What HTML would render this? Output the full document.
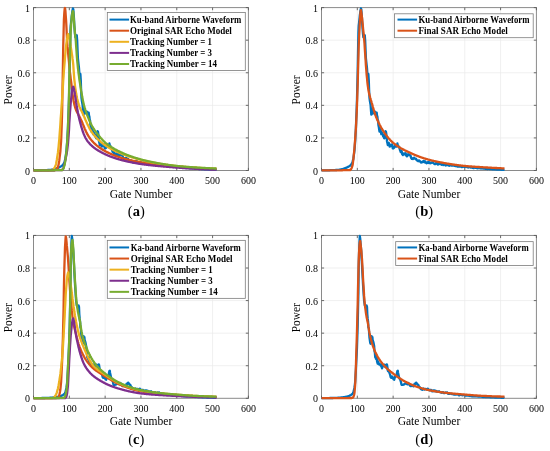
<!DOCTYPE html>
<html><head><meta charset="utf-8"><title>Figure</title>
<style>
html,body{margin:0;padding:0;background:#fff;}
svg{display:block;}
text{font-family:"Liberation Serif","Times New Roman",serif;fill:#000;}
.tk{font-size:10.8px;}
.al{font-size:12.2px;}
.lg{font-size:10.3px;font-weight:bold;}
.cap{font-size:14.5px;fill:#000;}
</style></head><body>
<svg width="550" height="451" viewBox="0 0 550 451">
<rect width="550" height="451" fill="#fff"/>
<g>
<line x1="69.32" y1="7.60" x2="69.32" y2="170.50" stroke="#e9e9e9" stroke-width="0.7"/>
<line x1="105.13" y1="7.60" x2="105.13" y2="170.50" stroke="#e9e9e9" stroke-width="0.7"/>
<line x1="140.95" y1="7.60" x2="140.95" y2="170.50" stroke="#e9e9e9" stroke-width="0.7"/>
<line x1="176.77" y1="7.60" x2="176.77" y2="170.50" stroke="#e9e9e9" stroke-width="0.7"/>
<line x1="212.58" y1="7.60" x2="212.58" y2="170.50" stroke="#e9e9e9" stroke-width="0.7"/>
<line x1="33.50" y1="137.92" x2="248.40" y2="137.92" stroke="#e9e9e9" stroke-width="0.7"/>
<line x1="33.50" y1="105.34" x2="248.40" y2="105.34" stroke="#e9e9e9" stroke-width="0.7"/>
<line x1="33.50" y1="72.76" x2="248.40" y2="72.76" stroke="#e9e9e9" stroke-width="0.7"/>
<line x1="33.50" y1="40.18" x2="248.40" y2="40.18" stroke="#e9e9e9" stroke-width="0.7"/>
<rect x="33.50" y="7.60" width="214.90" height="162.90" fill="none" stroke="#8a8a8a" stroke-width="1"/>
<line x1="33.50" y1="170.50" x2="33.50" y2="167.90" stroke="#5a5a5a" stroke-width="0.9"/>
<line x1="33.50" y1="7.60" x2="33.50" y2="10.20" stroke="#5a5a5a" stroke-width="0.9"/>
<text x="33.50" y="183.80" text-anchor="middle" class="tk" textLength="5.0" lengthAdjust="spacingAndGlyphs">0</text>
<line x1="69.32" y1="170.50" x2="69.32" y2="167.90" stroke="#5a5a5a" stroke-width="0.9"/>
<line x1="69.32" y1="7.60" x2="69.32" y2="10.20" stroke="#5a5a5a" stroke-width="0.9"/>
<text x="69.32" y="183.80" text-anchor="middle" class="tk" textLength="15.0" lengthAdjust="spacingAndGlyphs">100</text>
<line x1="105.13" y1="170.50" x2="105.13" y2="167.90" stroke="#5a5a5a" stroke-width="0.9"/>
<line x1="105.13" y1="7.60" x2="105.13" y2="10.20" stroke="#5a5a5a" stroke-width="0.9"/>
<text x="105.13" y="183.80" text-anchor="middle" class="tk" textLength="15.0" lengthAdjust="spacingAndGlyphs">200</text>
<line x1="140.95" y1="170.50" x2="140.95" y2="167.90" stroke="#5a5a5a" stroke-width="0.9"/>
<line x1="140.95" y1="7.60" x2="140.95" y2="10.20" stroke="#5a5a5a" stroke-width="0.9"/>
<text x="140.95" y="183.80" text-anchor="middle" class="tk" textLength="15.0" lengthAdjust="spacingAndGlyphs">300</text>
<line x1="176.77" y1="170.50" x2="176.77" y2="167.90" stroke="#5a5a5a" stroke-width="0.9"/>
<line x1="176.77" y1="7.60" x2="176.77" y2="10.20" stroke="#5a5a5a" stroke-width="0.9"/>
<text x="176.77" y="183.80" text-anchor="middle" class="tk" textLength="15.0" lengthAdjust="spacingAndGlyphs">400</text>
<line x1="212.58" y1="170.50" x2="212.58" y2="167.90" stroke="#5a5a5a" stroke-width="0.9"/>
<line x1="212.58" y1="7.60" x2="212.58" y2="10.20" stroke="#5a5a5a" stroke-width="0.9"/>
<text x="212.58" y="183.80" text-anchor="middle" class="tk" textLength="15.0" lengthAdjust="spacingAndGlyphs">500</text>
<line x1="248.40" y1="170.50" x2="248.40" y2="167.90" stroke="#5a5a5a" stroke-width="0.9"/>
<line x1="248.40" y1="7.60" x2="248.40" y2="10.20" stroke="#5a5a5a" stroke-width="0.9"/>
<text x="248.40" y="183.80" text-anchor="middle" class="tk" textLength="15.0" lengthAdjust="spacingAndGlyphs">600</text>
<line x1="33.50" y1="170.50" x2="36.10" y2="170.50" stroke="#5a5a5a" stroke-width="0.9"/>
<line x1="248.40" y1="170.50" x2="245.80" y2="170.50" stroke="#5a5a5a" stroke-width="0.9"/>
<text x="29.90" y="174.50" text-anchor="end" class="tk" textLength="5.0" lengthAdjust="spacingAndGlyphs">0</text>
<line x1="33.50" y1="137.92" x2="36.10" y2="137.92" stroke="#5a5a5a" stroke-width="0.9"/>
<line x1="248.40" y1="137.92" x2="245.80" y2="137.92" stroke="#5a5a5a" stroke-width="0.9"/>
<text x="29.90" y="141.92" text-anchor="end" class="tk" textLength="12.5" lengthAdjust="spacingAndGlyphs">0.2</text>
<line x1="33.50" y1="105.34" x2="36.10" y2="105.34" stroke="#5a5a5a" stroke-width="0.9"/>
<line x1="248.40" y1="105.34" x2="245.80" y2="105.34" stroke="#5a5a5a" stroke-width="0.9"/>
<text x="29.90" y="109.34" text-anchor="end" class="tk" textLength="12.5" lengthAdjust="spacingAndGlyphs">0.4</text>
<line x1="33.50" y1="72.76" x2="36.10" y2="72.76" stroke="#5a5a5a" stroke-width="0.9"/>
<line x1="248.40" y1="72.76" x2="245.80" y2="72.76" stroke="#5a5a5a" stroke-width="0.9"/>
<text x="29.90" y="76.76" text-anchor="end" class="tk" textLength="12.5" lengthAdjust="spacingAndGlyphs">0.6</text>
<line x1="33.50" y1="40.18" x2="36.10" y2="40.18" stroke="#5a5a5a" stroke-width="0.9"/>
<line x1="248.40" y1="40.18" x2="245.80" y2="40.18" stroke="#5a5a5a" stroke-width="0.9"/>
<text x="29.90" y="44.18" text-anchor="end" class="tk" textLength="12.5" lengthAdjust="spacingAndGlyphs">0.8</text>
<line x1="33.50" y1="7.60" x2="36.10" y2="7.60" stroke="#5a5a5a" stroke-width="0.9"/>
<line x1="248.40" y1="7.60" x2="245.80" y2="7.60" stroke="#5a5a5a" stroke-width="0.9"/>
<text x="29.90" y="11.60" text-anchor="end" class="tk" textLength="5.0" lengthAdjust="spacingAndGlyphs">1</text>
<text x="140.95" y="197.50" text-anchor="middle" class="al" textLength="62.6" lengthAdjust="spacingAndGlyphs">Gate Number</text>
<text transform="translate(12.10 89.95) rotate(-90)" text-anchor="middle" class="al" style="font-size:11.5px" textLength="28.9" lengthAdjust="spacingAndGlyphs">Power</text>
<text x="136.25" y="215.70" text-anchor="middle" class="cap">(<tspan font-weight="bold">a</tspan>)</text>
<path d="M33.5 170.4 L33.9 170.4 L34.2 170.4 L34.6 170.4 L34.9 170.4 L35.3 170.4 L35.6 170.4 L36.0 170.4 L36.4 170.4 L36.7 170.4 L37.1 170.4 L37.4 170.4 L37.8 170.4 L38.2 170.4 L38.5 170.3 L38.9 170.3 L39.2 170.3 L39.6 170.3 L39.9 170.3 L40.3 170.3 L40.7 170.3 L41.0 170.3 L41.4 170.3 L41.7 170.3 L42.1 170.2 L42.5 170.2 L42.8 170.2 L43.2 170.2 L43.5 170.2 L43.9 170.2 L44.2 170.2 L44.6 170.2 L45.0 170.1 L45.3 170.1 L45.7 170.1 L46.0 170.1 L46.4 170.1 L46.8 170.1 L47.1 170.1 L47.5 170.0 L47.8 170.0 L48.2 170.0 L48.5 170.0 L48.9 170.0 L49.3 169.9 L49.6 169.9 L50.0 169.9 L50.3 169.8 L50.7 169.8 L51.1 169.8 L51.4 169.7 L51.8 169.7 L52.1 169.6 L52.5 169.5 L52.8 169.4 L53.2 169.3 L53.6 169.3 L53.9 169.2 L54.3 169.1 L54.6 169.0 L55.0 168.9 L55.3 168.8 L55.7 168.7 L56.1 168.6 L56.4 168.4 L56.8 168.3 L57.1 168.2 L57.5 168.1 L57.9 167.9 L58.2 167.8 L58.6 167.6 L58.9 167.4 L59.3 167.3 L59.6 167.1 L60.0 166.9 L60.4 166.7 L60.7 166.5 L61.1 166.3 L61.4 166.1 L61.8 165.8 L62.2 165.6 L62.5 165.2 L62.9 164.9 L63.2 164.5 L63.6 163.9 L63.9 163.2 L64.3 162.4 L64.7 161.3 L65.0 160.1 L65.4 158.4 L65.7 156.1 L66.1 153.3 L66.5 150.1 L66.8 146.1 L67.2 141.2 L67.5 135.3 L67.9 128.2 L68.2 120.0 L68.6 110.5 L69.0 99.2 L69.3 86.3 L69.7 70.7 L70.0 53.2 L70.4 32.7 L70.7 25.9 L71.1 22.3 L71.5 18.6 L71.8 15.5 L72.2 12.8 L72.5 10.5 L72.9 8.4 L73.3 9.3 L73.6 13.4 L74.0 18.5 L74.3 25.0 L74.7 30.4 L75.0 34.4 L75.4 37.3 L75.8 37.5 L76.1 36.5 L76.5 35.8 L76.8 35.3 L77.2 41.0 L77.6 51.0 L77.9 58.1 L78.3 61.9 L78.6 64.6 L79.0 68.2 L79.3 72.5 L79.7 77.3 L80.1 73.7 L80.4 74.2 L80.8 80.5 L81.1 90.0 L81.5 98.1 L81.9 101.1 L82.2 102.9 L82.6 105.1 L82.9 109.5 L83.3 114.6 L83.6 114.5 L84.0 112.0 L84.4 108.9 L84.7 111.5 L85.1 111.2 L85.4 113.3 L85.8 112.4 L86.2 112.1 L86.5 111.7 L86.9 112.6 L87.2 111.8 L87.6 114.7 L87.9 112.8 L88.3 115.2 L88.7 112.7 L89.0 115.3 L89.4 116.5 L89.7 119.9 L90.1 120.5 L90.4 125.1 L90.8 126.9 L91.2 129.8 L91.5 131.5 L91.9 128.8 L92.2 129.4 L92.6 130.3 L93.0 132.5 L93.3 134.2 L93.7 132.3 L94.0 133.4 L94.4 133.1 L94.7 134.3 L95.1 136.2 L95.5 135.7 L95.8 137.3 L96.2 138.2 L96.5 138.3 L96.9 135.2 L97.3 133.2 L97.6 131.2 L98.0 131.9 L98.3 133.9 L98.7 137.1 L99.0 141.4 L99.4 143.1 L99.8 145.0 L100.1 143.6 L100.5 142.7 L100.8 142.9 L101.2 144.1 L101.6 146.5 L101.9 146.5 L102.3 146.2 L102.6 144.9 L103.0 145.8 L103.3 144.7 L103.7 144.5 L104.1 144.4 L104.4 146.8 L104.8 148.4 L105.1 148.5 L105.5 148.4 L105.8 148.0 L106.2 147.6 L106.6 146.4 L106.9 145.6 L107.3 145.7 L107.6 145.9 L108.0 146.7 L108.4 146.7 L108.7 145.3 L109.1 145.4 L109.4 143.5 L109.8 145.7 L110.1 145.5 L110.5 146.5 L110.9 146.7 L111.2 147.1 L111.6 148.7 L111.9 149.8 L112.3 150.9 L112.7 152.0 L113.0 151.4 L113.4 152.0 L113.7 151.2 L114.1 154.0 L114.4 154.2 L114.8 155.1 L115.2 153.9 L115.5 153.5 L115.9 153.7 L116.2 153.8 L116.6 154.3 L117.0 153.3 L117.3 153.2 L117.7 153.4 L118.0 155.2 L118.4 155.4 L118.7 156.3 L119.1 156.3 L119.5 155.4 L119.8 154.4 L120.2 154.2 L120.5 155.0 L120.9 154.8 L121.3 155.0 L121.6 154.8 L122.0 155.3 L122.3 155.7 L122.7 156.0 L123.0 157.7 L123.4 158.2 L123.8 158.9 L124.1 158.5 L124.5 158.5 L124.8 159.0 L125.2 159.0 L125.5 158.1 L125.9 157.7 L126.3 157.7 L126.6 158.4 L127.0 158.9 L127.3 158.7 L127.7 159.2 L128.1 158.8 L128.4 159.8 L128.8 159.8 L129.1 160.6 L129.5 160.6 L129.8 160.7 L130.2 161.2 L130.6 160.5 L130.9 160.9 L131.3 160.5 L131.6 161.1 L132.0 161.2 L132.4 162.0 L132.7 162.1 L133.1 162.6 L133.4 162.1 L133.8 162.1 L134.1 161.8 L134.5 162.2 L134.9 161.7 L135.2 161.2 L135.6 161.0 L135.9 161.6 L136.3 162.2 L136.7 161.8 L137.0 161.2 L137.4 161.7 L137.7 162.2 L138.1 163.0 L138.4 163.0 L138.8 163.3 L139.2 162.9 L139.5 162.9 L139.9 162.1 L140.2 162.0 L140.6 162.0 L140.9 162.7 L141.3 163.1 L141.7 162.5 L142.0 162.5 L142.4 162.7 L142.7 163.2 L143.1 162.9 L143.5 162.7 L143.8 162.3 L144.2 162.4 L144.5 162.2 L144.9 162.9 L145.2 163.0 L145.6 163.2 L146.0 163.6 L146.3 163.6 L146.7 164.1 L147.0 163.6 L147.4 164.1 L147.8 163.2 L148.1 163.2 L148.5 162.7 L148.8 163.0 L149.2 163.5 L149.5 164.3 L149.9 164.6 L150.3 164.2 L150.6 163.7 L151.0 163.5 L151.3 163.5 L151.7 163.9 L152.1 164.1 L152.4 163.9 L152.8 163.8 L153.1 164.3 L153.5 164.8 L153.8 164.8 L154.2 164.4 L154.6 164.5 L154.9 164.5 L155.3 165.1 L155.6 164.7 L156.0 164.5 L156.4 163.8 L156.7 164.3 L157.1 164.6 L157.4 165.5 L157.8 165.2 L158.1 165.3 L158.5 165.0 L158.9 165.0 L159.2 165.0 L159.6 164.7 L159.9 164.8 L160.3 164.8 L160.6 165.4 L161.0 165.6 L161.4 165.8 L161.7 165.4 L162.1 165.3 L162.4 165.0 L162.8 165.2 L163.2 165.3 L163.5 165.6 L163.9 165.5 L164.2 165.4 L164.6 165.6 L164.9 165.4 L165.3 165.5 L165.7 165.3 L166.0 165.6 L166.4 165.3 L166.7 165.8 L167.1 165.7 L167.5 166.1 L167.8 165.9 L168.2 165.8 L168.5 166.0 L168.9 166.2 L169.2 166.6 L169.6 166.4 L170.0 166.5 L170.3 166.4 L170.7 166.7 L171.0 166.6 L171.4 166.7 L171.8 166.5 L172.1 166.5 L172.5 166.6 L172.8 166.6 L173.2 166.6 L173.5 167.0 L173.9 167.0 L174.3 167.0 L174.6 166.6 L175.0 166.3 L175.3 166.3 L175.7 166.5 L176.1 166.9 L176.4 167.0 L176.8 166.9 L177.1 166.7 L177.5 166.9 L177.8 167.0 L178.2 167.0 L178.6 166.8 L178.9 166.8 L179.3 167.0 L179.6 167.3 L180.0 167.4 L180.3 167.5 L180.7 167.3 L181.1 167.2 L181.4 167.1 L181.8 167.1 L182.1 167.3 L182.5 167.4 L182.9 167.6 L183.2 167.6 L183.6 167.5 L183.9 167.5 L184.3 167.7 L184.6 167.9 L185.0 168.0 L185.4 168.0 L185.7 168.1 L186.1 167.9 L186.4 167.7 L186.8 167.7 L187.2 167.7 L187.5 167.8 L187.9 167.9 L188.2 168.0 L188.6 168.1 L188.9 168.1 L189.3 168.2 L189.7 168.3 L190.0 168.2 L190.4 168.0 L190.7 167.9 L191.1 168.0 L191.5 168.0 L191.8 168.2 L192.2 168.3 L192.5 168.4 L192.9 168.5 L193.2 168.4 L193.6 168.5 L194.0 168.4 L194.3 168.4 L194.7 168.5 L195.0 168.5 L195.4 168.5 L195.7 168.6 L196.1 168.6 L196.5 168.7 L196.8 168.7 L197.2 168.8 L197.5 168.9 L197.9 168.9 L198.3 168.8 L198.6 168.8 L199.0 168.8 L199.3 169.0 L199.7 169.0 L200.0 169.0 L200.4 168.9 L200.8 168.9 L201.1 169.0 L201.5 169.1 L201.8 169.2 L202.2 169.2 L202.6 169.2 L202.9 169.2 L203.3 169.2 L203.6 169.1 L204.0 169.2 L204.3 169.3 L204.7 169.3 L205.1 169.4 L205.4 169.3 L205.8 169.3 L206.1 169.3 L206.5 169.3 L206.9 169.4 L207.2 169.5 L207.6 169.4 L207.9 169.4 L208.3 169.5 L208.6 169.5 L209.0 169.5 L209.4 169.5 L209.7 169.5 L210.1 169.6 L210.4 169.6 L210.8 169.6 L211.2 169.6 L211.5 169.6 L211.9 169.7 L212.2 169.7 L212.6 169.7 L212.9 169.7 L213.3 169.8 L213.7 169.7 L214.0 169.7 L214.4 169.8 L214.7 169.8 L215.1 169.8 L215.4 169.8 L215.8 169.9 L216.2 169.9 L216.5 169.9" fill="none" stroke="#0072BD" stroke-width="2.30" stroke-linejoin="round" stroke-linecap="butt"/>
<path d="M33.5 170.4 L33.9 170.4 L34.2 170.4 L34.6 170.4 L34.9 170.4 L35.3 170.4 L35.6 170.4 L36.0 170.4 L36.4 170.4 L36.7 170.4 L37.1 170.4 L37.4 170.4 L37.8 170.4 L38.2 170.4 L38.5 170.4 L38.9 170.4 L39.2 170.4 L39.6 170.4 L39.9 170.4 L40.3 170.4 L40.7 170.4 L41.0 170.4 L41.4 170.4 L41.7 170.4 L42.1 170.4 L42.5 170.4 L42.8 170.4 L43.2 170.4 L43.5 170.4 L43.9 170.4 L44.2 170.4 L44.6 170.4 L45.0 170.4 L45.3 170.4 L45.7 170.4 L46.0 170.4 L46.4 170.4 L46.8 170.4 L47.1 170.4 L47.5 170.4 L47.8 170.4 L48.2 170.4 L48.5 170.4 L48.9 170.4 L49.3 170.4 L49.6 170.4 L50.0 170.4 L50.3 170.4 L50.7 170.4 L51.1 170.4 L51.4 170.4 L51.8 170.4 L52.1 170.3 L52.5 170.3 L52.8 170.3 L53.2 170.3 L53.6 170.3 L53.9 170.3 L54.3 170.3 L54.6 170.2 L55.0 170.2 L55.3 170.1 L55.7 170.0 L56.1 169.8 L56.4 169.6 L56.8 169.4 L57.1 168.9 L57.5 168.1 L57.9 167.2 L58.2 166.0 L58.6 164.6 L58.9 162.7 L59.3 160.4 L59.6 157.7 L60.0 154.6 L60.4 151.0 L60.7 146.5 L61.1 141.1 L61.4 134.0 L61.8 123.3 L62.2 108.7 L62.5 89.0 L62.9 67.5 L63.2 47.8 L63.6 32.0 L63.9 19.8 L64.3 13.0 L64.7 8.7 L65.0 8.0 L65.4 10.7 L65.7 15.0 L66.1 20.4 L66.5 28.0 L66.8 35.4 L67.2 41.8 L67.5 46.4 L67.9 50.1 L68.2 54.0 L68.6 58.1 L69.0 62.2 L69.3 66.1 L69.7 69.6 L70.0 72.7 L70.4 75.7 L70.7 78.6 L71.1 81.5 L71.5 84.6 L71.8 87.9 L72.2 91.2 L72.5 94.1 L72.9 96.5 L73.3 98.8 L73.6 100.9 L74.0 102.8 L74.3 104.4 L74.7 105.8 L75.0 107.0 L75.4 108.2 L75.8 109.2 L76.1 110.2 L76.5 111.0 L76.8 111.8 L77.2 112.5 L77.6 113.2 L77.9 113.8 L78.3 114.5 L78.6 115.1 L79.0 115.8 L79.3 116.4 L79.7 117.1 L80.1 117.8 L80.4 118.5 L80.8 119.2 L81.1 120.0 L81.5 120.8 L81.9 121.6 L82.2 122.5 L82.6 123.4 L82.9 124.2 L83.3 125.1 L83.6 126.0 L84.0 126.9 L84.4 127.8 L84.7 128.6 L85.1 129.5 L85.4 130.3 L85.8 131.1 L86.2 131.9 L86.5 132.6 L86.9 133.3 L87.2 134.0 L87.6 134.6 L87.9 135.2 L88.3 135.8 L88.7 136.4 L89.0 136.9 L89.4 137.5 L89.7 138.0 L90.1 138.5 L90.4 139.0 L90.8 139.4 L91.2 139.9 L91.5 140.3 L91.9 140.7 L92.2 141.1 L92.6 141.5 L93.0 141.9 L93.3 142.3 L93.7 142.6 L94.0 143.0 L94.4 143.3 L94.7 143.7 L95.1 144.0 L95.5 144.3 L95.8 144.7 L96.2 145.0 L96.5 145.3 L96.9 145.6 L97.3 145.9 L97.6 146.2 L98.0 146.4 L98.3 146.7 L98.7 147.0 L99.0 147.3 L99.4 147.5 L99.8 147.8 L100.1 148.0 L100.5 148.3 L100.8 148.5 L101.2 148.7 L101.6 149.0 L101.9 149.2 L102.3 149.4 L102.6 149.7 L103.0 149.9 L103.3 150.1 L103.7 150.3 L104.1 150.5 L104.4 150.7 L104.8 150.9 L105.1 151.1 L105.5 151.3 L105.8 151.5 L106.2 151.7 L106.6 151.9 L106.9 152.1 L107.3 152.3 L107.6 152.4 L108.0 152.6 L108.4 152.8 L108.7 153.0 L109.1 153.1 L109.4 153.3 L109.8 153.5 L110.1 153.6 L110.5 153.8 L110.9 153.9 L111.2 154.1 L111.6 154.3 L111.9 154.4 L112.3 154.6 L112.7 154.7 L113.0 154.9 L113.4 155.0 L113.7 155.2 L114.1 155.3 L114.4 155.4 L114.8 155.6 L115.2 155.7 L115.5 155.8 L115.9 156.0 L116.2 156.1 L116.6 156.2 L117.0 156.4 L117.3 156.5 L117.7 156.6 L118.0 156.7 L118.4 156.9 L118.7 157.0 L119.1 157.1 L119.5 157.2 L119.8 157.3 L120.2 157.4 L120.5 157.6 L120.9 157.7 L121.3 157.8 L121.6 157.9 L122.0 158.0 L122.3 158.1 L122.7 158.2 L123.0 158.3 L123.4 158.4 L123.8 158.5 L124.1 158.6 L124.5 158.7 L124.8 158.8 L125.2 158.9 L125.5 159.0 L125.9 159.1 L126.3 159.2 L126.6 159.3 L127.0 159.4 L127.3 159.5 L127.7 159.6 L128.1 159.7 L128.4 159.8 L128.8 159.8 L129.1 159.9 L129.5 160.0 L129.8 160.1 L130.2 160.2 L130.6 160.3 L130.9 160.3 L131.3 160.4 L131.6 160.5 L132.0 160.6 L132.4 160.7 L132.7 160.7 L133.1 160.8 L133.4 160.9 L133.8 161.0 L134.1 161.1 L134.5 161.1 L134.9 161.2 L135.2 161.3 L135.6 161.3 L135.9 161.4 L136.3 161.5 L136.7 161.6 L137.0 161.6 L137.4 161.7 L137.7 161.8 L138.1 161.8 L138.4 161.9 L138.8 162.0 L139.2 162.0 L139.5 162.1 L139.9 162.2 L140.2 162.2 L140.6 162.3 L140.9 162.4 L141.3 162.4 L141.7 162.5 L142.0 162.5 L142.4 162.6 L142.7 162.7 L143.1 162.7 L143.5 162.8 L143.8 162.8 L144.2 162.9 L144.5 162.9 L144.9 163.0 L145.2 163.0 L145.6 163.1 L146.0 163.2 L146.3 163.2 L146.7 163.3 L147.0 163.3 L147.4 163.4 L147.8 163.4 L148.1 163.4 L148.5 163.5 L148.8 163.5 L149.2 163.6 L149.5 163.6 L149.9 163.7 L150.3 163.7 L150.6 163.8 L151.0 163.8 L151.3 163.9 L151.7 163.9 L152.1 163.9 L152.4 164.0 L152.8 164.0 L153.1 164.1 L153.5 164.1 L153.8 164.2 L154.2 164.2 L154.6 164.2 L154.9 164.3 L155.3 164.3 L155.6 164.4 L156.0 164.4 L156.4 164.4 L156.7 164.5 L157.1 164.5 L157.4 164.5 L157.8 164.6 L158.1 164.6 L158.5 164.7 L158.9 164.7 L159.2 164.7 L159.6 164.8 L159.9 164.8 L160.3 164.8 L160.6 164.9 L161.0 164.9 L161.4 165.0 L161.7 165.0 L162.1 165.0 L162.4 165.1 L162.8 165.1 L163.2 165.1 L163.5 165.2 L163.9 165.2 L164.2 165.2 L164.6 165.3 L164.9 165.3 L165.3 165.3 L165.7 165.4 L166.0 165.4 L166.4 165.4 L166.7 165.5 L167.1 165.5 L167.5 165.5 L167.8 165.6 L168.2 165.6 L168.5 165.7 L168.9 165.7 L169.2 165.7 L169.6 165.8 L170.0 165.8 L170.3 165.8 L170.7 165.9 L171.0 165.9 L171.4 165.9 L171.8 166.0 L172.1 166.0 L172.5 166.0 L172.8 166.1 L173.2 166.1 L173.5 166.1 L173.9 166.2 L174.3 166.2 L174.6 166.2 L175.0 166.3 L175.3 166.3 L175.7 166.3 L176.1 166.4 L176.4 166.4 L176.8 166.4 L177.1 166.5 L177.5 166.5 L177.8 166.5 L178.2 166.6 L178.6 166.6 L178.9 166.6 L179.3 166.7 L179.6 166.7 L180.0 166.7 L180.3 166.8 L180.7 166.8 L181.1 166.8 L181.4 166.9 L181.8 166.9 L182.1 166.9 L182.5 167.0 L182.9 167.0 L183.2 167.0 L183.6 167.0 L183.9 167.1 L184.3 167.1 L184.6 167.1 L185.0 167.2 L185.4 167.2 L185.7 167.2 L186.1 167.3 L186.4 167.3 L186.8 167.3 L187.2 167.4 L187.5 167.4 L187.9 167.4 L188.2 167.4 L188.6 167.5 L188.9 167.5 L189.3 167.5 L189.7 167.6 L190.0 167.6 L190.4 167.6 L190.7 167.6 L191.1 167.7 L191.5 167.7 L191.8 167.7 L192.2 167.8 L192.5 167.8 L192.9 167.8 L193.2 167.8 L193.6 167.9 L194.0 167.9 L194.3 167.9 L194.7 167.9 L195.0 168.0 L195.4 168.0 L195.7 168.0 L196.1 168.0 L196.5 168.1 L196.8 168.1 L197.2 168.1 L197.5 168.1 L197.9 168.2 L198.3 168.2 L198.6 168.2 L199.0 168.2 L199.3 168.3 L199.7 168.3 L200.0 168.3 L200.4 168.3 L200.8 168.4 L201.1 168.4 L201.5 168.4 L201.8 168.4 L202.2 168.5 L202.6 168.5 L202.9 168.5 L203.3 168.5 L203.6 168.5 L204.0 168.6 L204.3 168.6 L204.7 168.6 L205.1 168.6 L205.4 168.6 L205.8 168.7 L206.1 168.7 L206.5 168.7 L206.9 168.7 L207.2 168.7 L207.6 168.8 L207.9 168.8 L208.3 168.8 L208.6 168.8 L209.0 168.8 L209.4 168.9 L209.7 168.9 L210.1 168.9 L210.4 168.9 L210.8 168.9 L211.2 169.0 L211.5 169.0 L211.9 169.0 L212.2 169.0 L212.6 169.0 L212.9 169.0 L213.3 169.1 L213.7 169.1 L214.0 169.1 L214.4 169.1 L214.7 169.1 L215.1 169.1 L215.4 169.2 L215.8 169.2 L216.2 169.2 L216.5 169.2" fill="none" stroke="#D95319" stroke-width="2.30" stroke-linejoin="round" stroke-linecap="butt"/>
<path d="M33.5 170.4 L33.9 170.4 L34.2 170.4 L34.6 170.4 L34.9 170.4 L35.3 170.4 L35.6 170.4 L36.0 170.4 L36.4 170.4 L36.7 170.4 L37.1 170.4 L37.4 170.4 L37.8 170.4 L38.2 170.4 L38.5 170.4 L38.9 170.4 L39.2 170.4 L39.6 170.4 L39.9 170.4 L40.3 170.4 L40.7 170.4 L41.0 170.4 L41.4 170.4 L41.7 170.4 L42.1 170.4 L42.5 170.4 L42.8 170.4 L43.2 170.4 L43.5 170.4 L43.9 170.4 L44.2 170.4 L44.6 170.4 L45.0 170.4 L45.3 170.4 L45.7 170.4 L46.0 170.4 L46.4 170.4 L46.8 170.4 L47.1 170.4 L47.5 170.4 L47.8 170.4 L48.2 170.4 L48.5 170.3 L48.9 170.3 L49.3 170.3 L49.6 170.3 L50.0 170.3 L50.3 170.3 L50.7 170.3 L51.1 170.2 L51.4 170.2 L51.8 170.1 L52.1 170.0 L52.5 169.8 L52.8 169.7 L53.2 169.5 L53.6 169.1 L53.9 168.7 L54.3 168.2 L54.6 167.6 L55.0 167.0 L55.3 166.1 L55.7 165.1 L56.1 163.7 L56.4 162.0 L56.8 160.0 L57.1 157.8 L57.5 155.5 L57.9 152.9 L58.2 149.9 L58.6 146.6 L58.9 143.0 L59.3 139.1 L59.6 134.7 L60.0 129.4 L60.4 123.8 L60.7 118.4 L61.1 113.3 L61.4 108.3 L61.8 103.1 L62.2 97.7 L62.5 92.0 L62.9 86.3 L63.2 80.9 L63.6 75.8 L63.9 70.9 L64.3 66.2 L64.7 61.7 L65.0 57.3 L65.4 53.2 L65.7 49.3 L66.1 45.6 L66.5 42.6 L66.8 40.2 L67.2 38.0 L67.5 36.1 L67.9 34.6 L68.2 34.1 L68.6 35.3 L69.0 36.8 L69.3 38.4 L69.7 40.2 L70.0 42.1 L70.4 44.2 L70.7 46.5 L71.1 48.9 L71.5 51.3 L71.8 53.6 L72.2 55.9 L72.5 58.5 L72.9 61.4 L73.3 65.0 L73.6 69.9 L74.0 75.3 L74.3 79.3 L74.7 82.7 L75.0 85.8 L75.4 88.6 L75.8 91.1 L76.1 93.3 L76.5 95.3 L76.8 97.1 L77.2 98.8 L77.6 100.3 L77.9 101.7 L78.3 103.0 L78.6 104.2 L79.0 105.3 L79.3 106.4 L79.7 107.3 L80.1 108.1 L80.4 108.9 L80.8 109.6 L81.1 110.3 L81.5 111.0 L81.9 111.7 L82.2 112.4 L82.6 113.2 L82.9 114.0 L83.3 114.8 L83.6 115.6 L84.0 116.4 L84.4 117.2 L84.7 118.1 L85.1 118.9 L85.4 119.7 L85.8 120.6 L86.2 121.4 L86.5 122.2 L86.9 123.0 L87.2 123.7 L87.6 124.5 L87.9 125.3 L88.3 126.0 L88.7 126.7 L89.0 127.4 L89.4 128.1 L89.7 128.8 L90.1 129.4 L90.4 130.0 L90.8 130.6 L91.2 131.2 L91.5 131.7 L91.9 132.2 L92.2 132.7 L92.6 133.2 L93.0 133.7 L93.3 134.1 L93.7 134.6 L94.0 135.0 L94.4 135.5 L94.7 135.9 L95.1 136.3 L95.5 136.7 L95.8 137.1 L96.2 137.5 L96.5 137.9 L96.9 138.3 L97.3 138.6 L97.6 139.0 L98.0 139.4 L98.3 139.7 L98.7 140.0 L99.0 140.4 L99.4 140.7 L99.8 141.0 L100.1 141.3 L100.5 141.7 L100.8 142.0 L101.2 142.3 L101.6 142.6 L101.9 142.8 L102.3 143.1 L102.6 143.4 L103.0 143.7 L103.3 144.0 L103.7 144.2 L104.1 144.5 L104.4 144.7 L104.8 145.0 L105.1 145.3 L105.5 145.5 L105.8 145.7 L106.2 146.0 L106.6 146.2 L106.9 146.4 L107.3 146.7 L107.6 146.9 L108.0 147.1 L108.4 147.3 L108.7 147.5 L109.1 147.8 L109.4 148.0 L109.8 148.2 L110.1 148.4 L110.5 148.6 L110.9 148.7 L111.2 148.9 L111.6 149.1 L111.9 149.3 L112.3 149.5 L112.7 149.7 L113.0 149.9 L113.4 150.0 L113.7 150.2 L114.1 150.4 L114.4 150.5 L114.8 150.7 L115.2 150.9 L115.5 151.0 L115.9 151.2 L116.2 151.4 L116.6 151.5 L117.0 151.7 L117.3 151.8 L117.7 152.0 L118.0 152.2 L118.4 152.3 L118.7 152.5 L119.1 152.6 L119.5 152.8 L119.8 152.9 L120.2 153.1 L120.5 153.2 L120.9 153.3 L121.3 153.5 L121.6 153.6 L122.0 153.8 L122.3 153.9 L122.7 154.1 L123.0 154.2 L123.4 154.4 L123.8 154.5 L124.1 154.6 L124.5 154.8 L124.8 154.9 L125.2 155.0 L125.5 155.2 L125.9 155.3 L126.3 155.4 L126.6 155.6 L127.0 155.7 L127.3 155.8 L127.7 155.9 L128.1 156.1 L128.4 156.2 L128.8 156.3 L129.1 156.4 L129.5 156.6 L129.8 156.7 L130.2 156.8 L130.6 156.9 L130.9 157.0 L131.3 157.1 L131.6 157.3 L132.0 157.4 L132.4 157.5 L132.7 157.6 L133.1 157.7 L133.4 157.8 L133.8 157.9 L134.1 158.0 L134.5 158.1 L134.9 158.2 L135.2 158.3 L135.6 158.4 L135.9 158.6 L136.3 158.7 L136.7 158.8 L137.0 158.9 L137.4 159.0 L137.7 159.1 L138.1 159.2 L138.4 159.3 L138.8 159.3 L139.2 159.4 L139.5 159.5 L139.9 159.6 L140.2 159.7 L140.6 159.8 L140.9 159.9 L141.3 160.0 L141.7 160.1 L142.0 160.2 L142.4 160.3 L142.7 160.4 L143.1 160.4 L143.5 160.5 L143.8 160.6 L144.2 160.7 L144.5 160.8 L144.9 160.9 L145.2 161.0 L145.6 161.0 L146.0 161.1 L146.3 161.2 L146.7 161.3 L147.0 161.4 L147.4 161.4 L147.8 161.5 L148.1 161.6 L148.5 161.7 L148.8 161.8 L149.2 161.8 L149.5 161.9 L149.9 162.0 L150.3 162.1 L150.6 162.1 L151.0 162.2 L151.3 162.3 L151.7 162.3 L152.1 162.4 L152.4 162.5 L152.8 162.6 L153.1 162.6 L153.5 162.7 L153.8 162.8 L154.2 162.8 L154.6 162.9 L154.9 163.0 L155.3 163.0 L155.6 163.1 L156.0 163.2 L156.4 163.2 L156.7 163.3 L157.1 163.4 L157.4 163.4 L157.8 163.5 L158.1 163.5 L158.5 163.6 L158.9 163.7 L159.2 163.7 L159.6 163.8 L159.9 163.8 L160.3 163.9 L160.6 164.0 L161.0 164.0 L161.4 164.1 L161.7 164.1 L162.1 164.2 L162.4 164.2 L162.8 164.3 L163.2 164.3 L163.5 164.4 L163.9 164.5 L164.2 164.5 L164.6 164.6 L164.9 164.6 L165.3 164.7 L165.7 164.7 L166.0 164.8 L166.4 164.8 L166.7 164.9 L167.1 164.9 L167.5 165.0 L167.8 165.0 L168.2 165.1 L168.5 165.1 L168.9 165.2 L169.2 165.2 L169.6 165.3 L170.0 165.3 L170.3 165.4 L170.7 165.4 L171.0 165.4 L171.4 165.5 L171.8 165.5 L172.1 165.6 L172.5 165.6 L172.8 165.7 L173.2 165.7 L173.5 165.7 L173.9 165.8 L174.3 165.8 L174.6 165.9 L175.0 165.9 L175.3 165.9 L175.7 166.0 L176.1 166.0 L176.4 166.1 L176.8 166.1 L177.1 166.1 L177.5 166.2 L177.8 166.2 L178.2 166.2 L178.6 166.3 L178.9 166.3 L179.3 166.4 L179.6 166.4 L180.0 166.4 L180.3 166.5 L180.7 166.5 L181.1 166.5 L181.4 166.6 L181.8 166.6 L182.1 166.6 L182.5 166.6 L182.9 166.7 L183.2 166.7 L183.6 166.7 L183.9 166.8 L184.3 166.8 L184.6 166.8 L185.0 166.9 L185.4 166.9 L185.7 166.9 L186.1 166.9 L186.4 167.0 L186.8 167.0 L187.2 167.0 L187.5 167.1 L187.9 167.1 L188.2 167.1 L188.6 167.1 L188.9 167.2 L189.3 167.2 L189.7 167.2 L190.0 167.2 L190.4 167.3 L190.7 167.3 L191.1 167.3 L191.5 167.3 L191.8 167.4 L192.2 167.4 L192.5 167.4 L192.9 167.4 L193.2 167.5 L193.6 167.5 L194.0 167.5 L194.3 167.5 L194.7 167.6 L195.0 167.6 L195.4 167.6 L195.7 167.6 L196.1 167.7 L196.5 167.7 L196.8 167.7 L197.2 167.7 L197.5 167.8 L197.9 167.8 L198.3 167.8 L198.6 167.8 L199.0 167.8 L199.3 167.9 L199.7 167.9 L200.0 167.9 L200.4 167.9 L200.8 167.9 L201.1 168.0 L201.5 168.0 L201.8 168.0 L202.2 168.0 L202.6 168.1 L202.9 168.1 L203.3 168.1 L203.6 168.1 L204.0 168.1 L204.3 168.1 L204.7 168.2 L205.1 168.2 L205.4 168.2 L205.8 168.2 L206.1 168.2 L206.5 168.3 L206.9 168.3 L207.2 168.3 L207.6 168.3 L207.9 168.3 L208.3 168.4 L208.6 168.4 L209.0 168.4 L209.4 168.4 L209.7 168.4 L210.1 168.4 L210.4 168.5 L210.8 168.5 L211.2 168.5 L211.5 168.5 L211.9 168.5 L212.2 168.5 L212.6 168.6 L212.9 168.6 L213.3 168.6 L213.7 168.6 L214.0 168.6 L214.4 168.6 L214.7 168.6 L215.1 168.7 L215.4 168.7 L215.8 168.7 L216.2 168.7 L216.5 168.7" fill="none" stroke="#EDB120" stroke-width="2.30" stroke-linejoin="round" stroke-linecap="butt"/>
<path d="M33.5 170.4 L33.9 170.4 L34.2 170.4 L34.6 170.4 L34.9 170.4 L35.3 170.4 L35.6 170.4 L36.0 170.4 L36.4 170.4 L36.7 170.4 L37.1 170.4 L37.4 170.4 L37.8 170.4 L38.2 170.4 L38.5 170.4 L38.9 170.4 L39.2 170.4 L39.6 170.4 L39.9 170.4 L40.3 170.4 L40.7 170.4 L41.0 170.4 L41.4 170.4 L41.7 170.4 L42.1 170.4 L42.5 170.4 L42.8 170.4 L43.2 170.4 L43.5 170.4 L43.9 170.4 L44.2 170.4 L44.6 170.4 L45.0 170.4 L45.3 170.4 L45.7 170.4 L46.0 170.4 L46.4 170.4 L46.8 170.4 L47.1 170.4 L47.5 170.4 L47.8 170.4 L48.2 170.4 L48.5 170.4 L48.9 170.3 L49.3 170.3 L49.6 170.3 L50.0 170.3 L50.3 170.3 L50.7 170.3 L51.1 170.3 L51.4 170.3 L51.8 170.3 L52.1 170.3 L52.5 170.3 L52.8 170.3 L53.2 170.3 L53.6 170.3 L53.9 170.3 L54.3 170.3 L54.6 170.2 L55.0 170.2 L55.3 170.2 L55.7 170.2 L56.1 170.2 L56.4 170.2 L56.8 170.2 L57.1 170.2 L57.5 170.2 L57.9 170.2 L58.2 170.2 L58.6 170.1 L58.9 170.1 L59.3 170.1 L59.6 170.1 L60.0 170.1 L60.4 170.1 L60.7 170.1 L61.1 170.1 L61.4 170.0 L61.8 170.0 L62.2 170.0 L62.5 169.8 L62.9 169.2 L63.2 168.5 L63.6 167.6 L63.9 166.2 L64.3 164.8 L64.7 163.3 L65.0 161.7 L65.4 160.0 L65.7 158.2 L66.1 156.5 L66.5 154.7 L66.8 152.6 L67.2 150.2 L67.5 147.6 L67.9 144.4 L68.2 140.5 L68.6 135.7 L69.0 130.0 L69.3 123.1 L69.7 117.3 L70.0 112.2 L70.4 107.5 L70.7 103.2 L71.1 99.1 L71.5 95.6 L71.8 92.6 L72.2 90.0 L72.5 88.2 L72.9 87.2 L73.3 86.6 L73.6 87.6 L74.0 89.0 L74.3 90.7 L74.7 92.7 L75.0 95.0 L75.4 97.5 L75.8 100.0 L76.1 102.4 L76.5 104.7 L76.8 106.8 L77.2 108.8 L77.6 110.7 L77.9 112.5 L78.3 114.3 L78.6 116.0 L79.0 117.6 L79.3 119.1 L79.7 120.6 L80.1 122.1 L80.4 123.4 L80.8 124.8 L81.1 126.1 L81.5 127.3 L81.9 128.5 L82.2 129.7 L82.6 130.8 L82.9 131.8 L83.3 132.8 L83.6 133.7 L84.0 134.6 L84.4 135.4 L84.7 136.2 L85.1 137.0 L85.4 137.7 L85.8 138.4 L86.2 139.0 L86.5 139.6 L86.9 140.2 L87.2 140.7 L87.6 141.2 L87.9 141.6 L88.3 142.1 L88.7 142.5 L89.0 142.9 L89.4 143.3 L89.7 143.7 L90.1 144.1 L90.4 144.5 L90.8 144.8 L91.2 145.2 L91.5 145.5 L91.9 145.9 L92.2 146.2 L92.6 146.5 L93.0 146.8 L93.3 147.1 L93.7 147.4 L94.0 147.7 L94.4 147.9 L94.7 148.2 L95.1 148.5 L95.5 148.7 L95.8 149.0 L96.2 149.2 L96.5 149.5 L96.9 149.7 L97.3 149.9 L97.6 150.2 L98.0 150.4 L98.3 150.6 L98.7 150.8 L99.0 151.0 L99.4 151.2 L99.8 151.4 L100.1 151.6 L100.5 151.8 L100.8 152.0 L101.2 152.2 L101.6 152.4 L101.9 152.6 L102.3 152.8 L102.6 153.0 L103.0 153.2 L103.3 153.3 L103.7 153.5 L104.1 153.7 L104.4 153.9 L104.8 154.0 L105.1 154.2 L105.5 154.4 L105.8 154.5 L106.2 154.7 L106.6 154.9 L106.9 155.0 L107.3 155.2 L107.6 155.4 L108.0 155.5 L108.4 155.7 L108.7 155.8 L109.1 156.0 L109.4 156.1 L109.8 156.3 L110.1 156.4 L110.5 156.5 L110.9 156.7 L111.2 156.8 L111.6 156.9 L111.9 157.1 L112.3 157.2 L112.7 157.3 L113.0 157.5 L113.4 157.6 L113.7 157.7 L114.1 157.8 L114.4 158.0 L114.8 158.1 L115.2 158.2 L115.5 158.3 L115.9 158.4 L116.2 158.5 L116.6 158.7 L117.0 158.8 L117.3 158.9 L117.7 159.0 L118.0 159.1 L118.4 159.2 L118.7 159.3 L119.1 159.4 L119.5 159.5 L119.8 159.6 L120.2 159.7 L120.5 159.8 L120.9 159.9 L121.3 160.0 L121.6 160.1 L122.0 160.2 L122.3 160.3 L122.7 160.4 L123.0 160.5 L123.4 160.5 L123.8 160.6 L124.1 160.7 L124.5 160.8 L124.8 160.9 L125.2 161.0 L125.5 161.1 L125.9 161.1 L126.3 161.2 L126.6 161.3 L127.0 161.4 L127.3 161.5 L127.7 161.5 L128.1 161.6 L128.4 161.7 L128.8 161.8 L129.1 161.9 L129.5 161.9 L129.8 162.0 L130.2 162.1 L130.6 162.1 L130.9 162.2 L131.3 162.3 L131.6 162.4 L132.0 162.4 L132.4 162.5 L132.7 162.6 L133.1 162.6 L133.4 162.7 L133.8 162.8 L134.1 162.8 L134.5 162.9 L134.9 163.0 L135.2 163.0 L135.6 163.1 L135.9 163.2 L136.3 163.2 L136.7 163.3 L137.0 163.3 L137.4 163.4 L137.7 163.5 L138.1 163.5 L138.4 163.6 L138.8 163.6 L139.2 163.7 L139.5 163.8 L139.9 163.8 L140.2 163.9 L140.6 163.9 L140.9 164.0 L141.3 164.0 L141.7 164.1 L142.0 164.1 L142.4 164.2 L142.7 164.3 L143.1 164.3 L143.5 164.4 L143.8 164.4 L144.2 164.5 L144.5 164.5 L144.9 164.6 L145.2 164.6 L145.6 164.6 L146.0 164.7 L146.3 164.7 L146.7 164.8 L147.0 164.8 L147.4 164.9 L147.8 164.9 L148.1 165.0 L148.5 165.0 L148.8 165.0 L149.2 165.1 L149.5 165.1 L149.9 165.2 L150.3 165.2 L150.6 165.2 L151.0 165.3 L151.3 165.3 L151.7 165.4 L152.1 165.4 L152.4 165.4 L152.8 165.5 L153.1 165.5 L153.5 165.6 L153.8 165.6 L154.2 165.6 L154.6 165.7 L154.9 165.7 L155.3 165.7 L155.6 165.8 L156.0 165.8 L156.4 165.8 L156.7 165.9 L157.1 165.9 L157.4 165.9 L157.8 166.0 L158.1 166.0 L158.5 166.0 L158.9 166.1 L159.2 166.1 L159.6 166.1 L159.9 166.2 L160.3 166.2 L160.6 166.2 L161.0 166.3 L161.4 166.3 L161.7 166.3 L162.1 166.4 L162.4 166.4 L162.8 166.4 L163.2 166.5 L163.5 166.5 L163.9 166.5 L164.2 166.6 L164.6 166.6 L164.9 166.6 L165.3 166.6 L165.7 166.7 L166.0 166.7 L166.4 166.7 L166.7 166.8 L167.1 166.8 L167.5 166.8 L167.8 166.9 L168.2 166.9 L168.5 166.9 L168.9 166.9 L169.2 167.0 L169.6 167.0 L170.0 167.0 L170.3 167.1 L170.7 167.1 L171.0 167.1 L171.4 167.1 L171.8 167.2 L172.1 167.2 L172.5 167.2 L172.8 167.3 L173.2 167.3 L173.5 167.3 L173.9 167.3 L174.3 167.4 L174.6 167.4 L175.0 167.4 L175.3 167.5 L175.7 167.5 L176.1 167.5 L176.4 167.5 L176.8 167.6 L177.1 167.6 L177.5 167.6 L177.8 167.7 L178.2 167.7 L178.6 167.7 L178.9 167.7 L179.3 167.8 L179.6 167.8 L180.0 167.8 L180.3 167.8 L180.7 167.9 L181.1 167.9 L181.4 167.9 L181.8 167.9 L182.1 168.0 L182.5 168.0 L182.9 168.0 L183.2 168.0 L183.6 168.1 L183.9 168.1 L184.3 168.1 L184.6 168.1 L185.0 168.2 L185.4 168.2 L185.7 168.2 L186.1 168.2 L186.4 168.3 L186.8 168.3 L187.2 168.3 L187.5 168.3 L187.9 168.4 L188.2 168.4 L188.6 168.4 L188.9 168.4 L189.3 168.4 L189.7 168.5 L190.0 168.5 L190.4 168.5 L190.7 168.5 L191.1 168.6 L191.5 168.6 L191.8 168.6 L192.2 168.6 L192.5 168.6 L192.9 168.7 L193.2 168.7 L193.6 168.7 L194.0 168.7 L194.3 168.7 L194.7 168.8 L195.0 168.8 L195.4 168.8 L195.7 168.8 L196.1 168.8 L196.5 168.9 L196.8 168.9 L197.2 168.9 L197.5 168.9 L197.9 168.9 L198.3 169.0 L198.6 169.0 L199.0 169.0 L199.3 169.0 L199.7 169.0 L200.0 169.0 L200.4 169.1 L200.8 169.1 L201.1 169.1 L201.5 169.1 L201.8 169.1 L202.2 169.2 L202.6 169.2 L202.9 169.2 L203.3 169.2 L203.6 169.2 L204.0 169.2 L204.3 169.2 L204.7 169.3 L205.1 169.3 L205.4 169.3 L205.8 169.3 L206.1 169.3 L206.5 169.3 L206.9 169.4 L207.2 169.4 L207.6 169.4 L207.9 169.4 L208.3 169.4 L208.6 169.4 L209.0 169.4 L209.4 169.5 L209.7 169.5 L210.1 169.5 L210.4 169.5 L210.8 169.5 L211.2 169.5 L211.5 169.5 L211.9 169.5 L212.2 169.6 L212.6 169.6 L212.9 169.6 L213.3 169.6 L213.7 169.6 L214.0 169.6 L214.4 169.6 L214.7 169.6 L215.1 169.7 L215.4 169.7 L215.8 169.7 L216.2 169.7 L216.5 169.7" fill="none" stroke="#7E2F8E" stroke-width="2.30" stroke-linejoin="round" stroke-linecap="butt"/>
<path d="M33.5 170.4 L33.9 170.4 L34.2 170.4 L34.6 170.4 L34.9 170.4 L35.3 170.4 L35.6 170.4 L36.0 170.4 L36.4 170.4 L36.7 170.4 L37.1 170.4 L37.4 170.4 L37.8 170.4 L38.2 170.4 L38.5 170.4 L38.9 170.4 L39.2 170.4 L39.6 170.4 L39.9 170.4 L40.3 170.4 L40.7 170.4 L41.0 170.4 L41.4 170.4 L41.7 170.4 L42.1 170.4 L42.5 170.4 L42.8 170.4 L43.2 170.4 L43.5 170.4 L43.9 170.4 L44.2 170.4 L44.6 170.4 L45.0 170.4 L45.3 170.4 L45.7 170.4 L46.0 170.4 L46.4 170.4 L46.8 170.4 L47.1 170.4 L47.5 170.4 L47.8 170.4 L48.2 170.4 L48.5 170.4 L48.9 170.3 L49.3 170.3 L49.6 170.3 L50.0 170.3 L50.3 170.3 L50.7 170.3 L51.1 170.3 L51.4 170.3 L51.8 170.3 L52.1 170.3 L52.5 170.3 L52.8 170.3 L53.2 170.3 L53.6 170.3 L53.9 170.3 L54.3 170.3 L54.6 170.2 L55.0 170.2 L55.3 170.2 L55.7 170.2 L56.1 170.2 L56.4 170.2 L56.8 170.2 L57.1 170.2 L57.5 170.2 L57.9 170.2 L58.2 170.1 L58.6 170.1 L58.9 170.1 L59.3 170.1 L59.6 170.1 L60.0 170.1 L60.4 170.1 L60.7 170.1 L61.1 170.1 L61.4 170.0 L61.8 170.0 L62.2 170.0 L62.5 169.8 L62.9 169.4 L63.2 168.9 L63.6 168.2 L63.9 167.1 L64.3 165.9 L64.7 164.4 L65.0 162.4 L65.4 160.0 L65.7 157.3 L66.1 154.4 L66.5 150.9 L66.8 146.8 L67.2 142.2 L67.5 136.8 L67.9 129.7 L68.2 120.9 L68.6 110.2 L69.0 95.7 L69.3 77.5 L69.7 63.1 L70.0 50.7 L70.4 40.2 L70.7 31.4 L71.1 25.1 L71.5 20.0 L71.8 16.2 L72.2 14.0 L72.5 12.3 L72.9 11.2 L73.3 11.8 L73.6 16.6 L74.0 21.1 L74.3 25.5 L74.7 29.6 L75.0 33.3 L75.4 37.0 L75.8 41.0 L76.1 45.8 L76.5 50.9 L76.8 56.0 L77.2 60.6 L77.6 64.5 L77.9 67.8 L78.3 70.8 L78.6 73.6 L79.0 76.4 L79.3 79.0 L79.7 81.5 L80.1 83.9 L80.4 86.3 L80.8 88.5 L81.1 90.7 L81.5 92.8 L81.9 94.8 L82.2 96.8 L82.6 98.8 L82.9 100.6 L83.3 102.3 L83.6 103.9 L84.0 105.3 L84.4 106.7 L84.7 107.9 L85.1 109.0 L85.4 110.1 L85.8 111.1 L86.2 112.2 L86.5 113.2 L86.9 114.1 L87.2 115.1 L87.6 116.1 L87.9 117.0 L88.3 117.9 L88.7 118.8 L89.0 119.7 L89.4 120.5 L89.7 121.3 L90.1 122.1 L90.4 122.9 L90.8 123.6 L91.2 124.3 L91.5 125.0 L91.9 125.7 L92.2 126.3 L92.6 127.0 L93.0 127.6 L93.3 128.2 L93.7 128.7 L94.0 129.3 L94.4 129.8 L94.7 130.4 L95.1 130.9 L95.5 131.4 L95.8 131.9 L96.2 132.4 L96.5 132.8 L96.9 133.3 L97.3 133.8 L97.6 134.2 L98.0 134.6 L98.3 135.1 L98.7 135.5 L99.0 135.9 L99.4 136.4 L99.8 136.8 L100.1 137.2 L100.5 137.6 L100.8 138.0 L101.2 138.4 L101.6 138.8 L101.9 139.2 L102.3 139.6 L102.6 140.0 L103.0 140.4 L103.3 140.8 L103.7 141.1 L104.1 141.5 L104.4 141.8 L104.8 142.2 L105.1 142.5 L105.5 142.8 L105.8 143.1 L106.2 143.4 L106.6 143.7 L106.9 144.0 L107.3 144.2 L107.6 144.5 L108.0 144.8 L108.4 145.1 L108.7 145.3 L109.1 145.6 L109.4 145.8 L109.8 146.1 L110.1 146.3 L110.5 146.6 L110.9 146.8 L111.2 147.0 L111.6 147.3 L111.9 147.5 L112.3 147.7 L112.7 147.9 L113.0 148.1 L113.4 148.3 L113.7 148.6 L114.1 148.8 L114.4 149.0 L114.8 149.2 L115.2 149.4 L115.5 149.6 L115.9 149.8 L116.2 149.9 L116.6 150.1 L117.0 150.3 L117.3 150.5 L117.7 150.7 L118.0 150.9 L118.4 151.0 L118.7 151.2 L119.1 151.4 L119.5 151.6 L119.8 151.7 L120.2 151.9 L120.5 152.1 L120.9 152.3 L121.3 152.4 L121.6 152.6 L122.0 152.7 L122.3 152.9 L122.7 153.1 L123.0 153.2 L123.4 153.4 L123.8 153.5 L124.1 153.7 L124.5 153.9 L124.8 154.0 L125.2 154.2 L125.5 154.3 L125.9 154.5 L126.3 154.6 L126.6 154.7 L127.0 154.9 L127.3 155.0 L127.7 155.2 L128.1 155.3 L128.4 155.4 L128.8 155.6 L129.1 155.7 L129.5 155.8 L129.8 156.0 L130.2 156.1 L130.6 156.2 L130.9 156.3 L131.3 156.5 L131.6 156.6 L132.0 156.7 L132.4 156.8 L132.7 157.0 L133.1 157.1 L133.4 157.2 L133.8 157.3 L134.1 157.4 L134.5 157.5 L134.9 157.6 L135.2 157.8 L135.6 157.9 L135.9 158.0 L136.3 158.1 L136.7 158.2 L137.0 158.3 L137.4 158.4 L137.7 158.5 L138.1 158.6 L138.4 158.7 L138.8 158.8 L139.2 158.9 L139.5 159.0 L139.9 159.1 L140.2 159.2 L140.6 159.3 L140.9 159.4 L141.3 159.5 L141.7 159.6 L142.0 159.7 L142.4 159.8 L142.7 159.9 L143.1 160.0 L143.5 160.1 L143.8 160.2 L144.2 160.3 L144.5 160.3 L144.9 160.4 L145.2 160.5 L145.6 160.6 L146.0 160.7 L146.3 160.8 L146.7 160.9 L147.0 160.9 L147.4 161.0 L147.8 161.1 L148.1 161.2 L148.5 161.3 L148.8 161.4 L149.2 161.4 L149.5 161.5 L149.9 161.6 L150.3 161.7 L150.6 161.7 L151.0 161.8 L151.3 161.9 L151.7 162.0 L152.1 162.0 L152.4 162.1 L152.8 162.2 L153.1 162.3 L153.5 162.3 L153.8 162.4 L154.2 162.5 L154.6 162.5 L154.9 162.6 L155.3 162.7 L155.6 162.7 L156.0 162.8 L156.4 162.9 L156.7 162.9 L157.1 163.0 L157.4 163.1 L157.8 163.1 L158.1 163.2 L158.5 163.3 L158.9 163.3 L159.2 163.4 L159.6 163.5 L159.9 163.5 L160.3 163.6 L160.6 163.6 L161.0 163.7 L161.4 163.8 L161.7 163.8 L162.1 163.9 L162.4 164.0 L162.8 164.0 L163.2 164.1 L163.5 164.1 L163.9 164.2 L164.2 164.2 L164.6 164.3 L164.9 164.4 L165.3 164.4 L165.7 164.5 L166.0 164.5 L166.4 164.6 L166.7 164.6 L167.1 164.7 L167.5 164.7 L167.8 164.8 L168.2 164.9 L168.5 164.9 L168.9 165.0 L169.2 165.0 L169.6 165.1 L170.0 165.1 L170.3 165.2 L170.7 165.2 L171.0 165.3 L171.4 165.3 L171.8 165.3 L172.1 165.4 L172.5 165.4 L172.8 165.5 L173.2 165.5 L173.5 165.6 L173.9 165.6 L174.3 165.7 L174.6 165.7 L175.0 165.7 L175.3 165.8 L175.7 165.8 L176.1 165.9 L176.4 165.9 L176.8 165.9 L177.1 166.0 L177.5 166.0 L177.8 166.1 L178.2 166.1 L178.6 166.1 L178.9 166.2 L179.3 166.2 L179.6 166.2 L180.0 166.3 L180.3 166.3 L180.7 166.3 L181.1 166.4 L181.4 166.4 L181.8 166.4 L182.1 166.5 L182.5 166.5 L182.9 166.5 L183.2 166.6 L183.6 166.6 L183.9 166.6 L184.3 166.6 L184.6 166.7 L185.0 166.7 L185.4 166.7 L185.7 166.8 L186.1 166.8 L186.4 166.8 L186.8 166.8 L187.2 166.9 L187.5 166.9 L187.9 166.9 L188.2 167.0 L188.6 167.0 L188.9 167.0 L189.3 167.0 L189.7 167.1 L190.0 167.1 L190.4 167.1 L190.7 167.1 L191.1 167.2 L191.5 167.2 L191.8 167.2 L192.2 167.2 L192.5 167.3 L192.9 167.3 L193.2 167.3 L193.6 167.3 L194.0 167.4 L194.3 167.4 L194.7 167.4 L195.0 167.4 L195.4 167.5 L195.7 167.5 L196.1 167.5 L196.5 167.5 L196.8 167.5 L197.2 167.6 L197.5 167.6 L197.9 167.6 L198.3 167.6 L198.6 167.7 L199.0 167.7 L199.3 167.7 L199.7 167.7 L200.0 167.7 L200.4 167.8 L200.8 167.8 L201.1 167.8 L201.5 167.8 L201.8 167.8 L202.2 167.9 L202.6 167.9 L202.9 167.9 L203.3 167.9 L203.6 167.9 L204.0 168.0 L204.3 168.0 L204.7 168.0 L205.1 168.0 L205.4 168.0 L205.8 168.1 L206.1 168.1 L206.5 168.1 L206.9 168.1 L207.2 168.1 L207.6 168.2 L207.9 168.2 L208.3 168.2 L208.6 168.2 L209.0 168.2 L209.4 168.2 L209.7 168.3 L210.1 168.3 L210.4 168.3 L210.8 168.3 L211.2 168.3 L211.5 168.3 L211.9 168.4 L212.2 168.4 L212.6 168.4 L212.9 168.4 L213.3 168.4 L213.7 168.4 L214.0 168.5 L214.4 168.5 L214.7 168.5 L215.1 168.5 L215.4 168.5 L215.8 168.5 L216.2 168.5 L216.5 168.5" fill="none" stroke="#77AC30" stroke-width="2.30" stroke-linejoin="round" stroke-linecap="butt"/>
<rect x="107.30" y="12.50" width="138.00" height="58.00" fill="#fff" stroke="#7c7c7c" stroke-width="0.8"/>
<line x1="109.50" y1="19.60" x2="129.10" y2="19.60" stroke="#0072BD" stroke-width="2"/>
<text x="130.00" y="22.80" class="lg" textLength="111.4" lengthAdjust="spacingAndGlyphs">Ku-band Airborne Waveform</text>
<line x1="109.50" y1="30.70" x2="129.10" y2="30.70" stroke="#D95319" stroke-width="2"/>
<text x="130.00" y="33.90" class="lg" textLength="101.8" lengthAdjust="spacingAndGlyphs">Original SAR Echo Model</text>
<line x1="109.50" y1="41.80" x2="129.10" y2="41.80" stroke="#EDB120" stroke-width="2"/>
<text x="130.00" y="45.00" class="lg" textLength="82.0" lengthAdjust="spacingAndGlyphs">Tracking Number = 1</text>
<line x1="109.50" y1="52.90" x2="129.10" y2="52.90" stroke="#7E2F8E" stroke-width="2"/>
<text x="130.00" y="56.10" class="lg" textLength="82.0" lengthAdjust="spacingAndGlyphs">Tracking Number = 3</text>
<line x1="109.50" y1="64.00" x2="129.10" y2="64.00" stroke="#77AC30" stroke-width="2"/>
<text x="130.00" y="67.20" class="lg" textLength="87.0" lengthAdjust="spacingAndGlyphs">Tracking Number = 14</text>
</g>
<g>
<line x1="357.32" y1="7.60" x2="357.32" y2="170.50" stroke="#e9e9e9" stroke-width="0.7"/>
<line x1="393.13" y1="7.60" x2="393.13" y2="170.50" stroke="#e9e9e9" stroke-width="0.7"/>
<line x1="428.95" y1="7.60" x2="428.95" y2="170.50" stroke="#e9e9e9" stroke-width="0.7"/>
<line x1="464.77" y1="7.60" x2="464.77" y2="170.50" stroke="#e9e9e9" stroke-width="0.7"/>
<line x1="500.58" y1="7.60" x2="500.58" y2="170.50" stroke="#e9e9e9" stroke-width="0.7"/>
<line x1="321.50" y1="137.92" x2="536.40" y2="137.92" stroke="#e9e9e9" stroke-width="0.7"/>
<line x1="321.50" y1="105.34" x2="536.40" y2="105.34" stroke="#e9e9e9" stroke-width="0.7"/>
<line x1="321.50" y1="72.76" x2="536.40" y2="72.76" stroke="#e9e9e9" stroke-width="0.7"/>
<line x1="321.50" y1="40.18" x2="536.40" y2="40.18" stroke="#e9e9e9" stroke-width="0.7"/>
<rect x="321.50" y="7.60" width="214.90" height="162.90" fill="none" stroke="#8a8a8a" stroke-width="1"/>
<line x1="321.50" y1="170.50" x2="321.50" y2="167.90" stroke="#5a5a5a" stroke-width="0.9"/>
<line x1="321.50" y1="7.60" x2="321.50" y2="10.20" stroke="#5a5a5a" stroke-width="0.9"/>
<text x="321.50" y="183.80" text-anchor="middle" class="tk" textLength="5.0" lengthAdjust="spacingAndGlyphs">0</text>
<line x1="357.32" y1="170.50" x2="357.32" y2="167.90" stroke="#5a5a5a" stroke-width="0.9"/>
<line x1="357.32" y1="7.60" x2="357.32" y2="10.20" stroke="#5a5a5a" stroke-width="0.9"/>
<text x="357.32" y="183.80" text-anchor="middle" class="tk" textLength="15.0" lengthAdjust="spacingAndGlyphs">100</text>
<line x1="393.13" y1="170.50" x2="393.13" y2="167.90" stroke="#5a5a5a" stroke-width="0.9"/>
<line x1="393.13" y1="7.60" x2="393.13" y2="10.20" stroke="#5a5a5a" stroke-width="0.9"/>
<text x="393.13" y="183.80" text-anchor="middle" class="tk" textLength="15.0" lengthAdjust="spacingAndGlyphs">200</text>
<line x1="428.95" y1="170.50" x2="428.95" y2="167.90" stroke="#5a5a5a" stroke-width="0.9"/>
<line x1="428.95" y1="7.60" x2="428.95" y2="10.20" stroke="#5a5a5a" stroke-width="0.9"/>
<text x="428.95" y="183.80" text-anchor="middle" class="tk" textLength="15.0" lengthAdjust="spacingAndGlyphs">300</text>
<line x1="464.77" y1="170.50" x2="464.77" y2="167.90" stroke="#5a5a5a" stroke-width="0.9"/>
<line x1="464.77" y1="7.60" x2="464.77" y2="10.20" stroke="#5a5a5a" stroke-width="0.9"/>
<text x="464.77" y="183.80" text-anchor="middle" class="tk" textLength="15.0" lengthAdjust="spacingAndGlyphs">400</text>
<line x1="500.58" y1="170.50" x2="500.58" y2="167.90" stroke="#5a5a5a" stroke-width="0.9"/>
<line x1="500.58" y1="7.60" x2="500.58" y2="10.20" stroke="#5a5a5a" stroke-width="0.9"/>
<text x="500.58" y="183.80" text-anchor="middle" class="tk" textLength="15.0" lengthAdjust="spacingAndGlyphs">500</text>
<line x1="536.40" y1="170.50" x2="536.40" y2="167.90" stroke="#5a5a5a" stroke-width="0.9"/>
<line x1="536.40" y1="7.60" x2="536.40" y2="10.20" stroke="#5a5a5a" stroke-width="0.9"/>
<text x="536.40" y="183.80" text-anchor="middle" class="tk" textLength="15.0" lengthAdjust="spacingAndGlyphs">600</text>
<line x1="321.50" y1="170.50" x2="324.10" y2="170.50" stroke="#5a5a5a" stroke-width="0.9"/>
<line x1="536.40" y1="170.50" x2="533.80" y2="170.50" stroke="#5a5a5a" stroke-width="0.9"/>
<text x="317.90" y="174.50" text-anchor="end" class="tk" textLength="5.0" lengthAdjust="spacingAndGlyphs">0</text>
<line x1="321.50" y1="137.92" x2="324.10" y2="137.92" stroke="#5a5a5a" stroke-width="0.9"/>
<line x1="536.40" y1="137.92" x2="533.80" y2="137.92" stroke="#5a5a5a" stroke-width="0.9"/>
<text x="317.90" y="141.92" text-anchor="end" class="tk" textLength="12.5" lengthAdjust="spacingAndGlyphs">0.2</text>
<line x1="321.50" y1="105.34" x2="324.10" y2="105.34" stroke="#5a5a5a" stroke-width="0.9"/>
<line x1="536.40" y1="105.34" x2="533.80" y2="105.34" stroke="#5a5a5a" stroke-width="0.9"/>
<text x="317.90" y="109.34" text-anchor="end" class="tk" textLength="12.5" lengthAdjust="spacingAndGlyphs">0.4</text>
<line x1="321.50" y1="72.76" x2="324.10" y2="72.76" stroke="#5a5a5a" stroke-width="0.9"/>
<line x1="536.40" y1="72.76" x2="533.80" y2="72.76" stroke="#5a5a5a" stroke-width="0.9"/>
<text x="317.90" y="76.76" text-anchor="end" class="tk" textLength="12.5" lengthAdjust="spacingAndGlyphs">0.6</text>
<line x1="321.50" y1="40.18" x2="324.10" y2="40.18" stroke="#5a5a5a" stroke-width="0.9"/>
<line x1="536.40" y1="40.18" x2="533.80" y2="40.18" stroke="#5a5a5a" stroke-width="0.9"/>
<text x="317.90" y="44.18" text-anchor="end" class="tk" textLength="12.5" lengthAdjust="spacingAndGlyphs">0.8</text>
<line x1="321.50" y1="7.60" x2="324.10" y2="7.60" stroke="#5a5a5a" stroke-width="0.9"/>
<line x1="536.40" y1="7.60" x2="533.80" y2="7.60" stroke="#5a5a5a" stroke-width="0.9"/>
<text x="317.90" y="11.60" text-anchor="end" class="tk" textLength="5.0" lengthAdjust="spacingAndGlyphs">1</text>
<text x="428.95" y="197.50" text-anchor="middle" class="al" textLength="62.6" lengthAdjust="spacingAndGlyphs">Gate Number</text>
<text transform="translate(300.10 89.95) rotate(-90)" text-anchor="middle" class="al" style="font-size:11.5px" textLength="28.9" lengthAdjust="spacingAndGlyphs">Power</text>
<text x="424.25" y="215.70" text-anchor="middle" class="cap">(<tspan font-weight="bold">b</tspan>)</text>
<path d="M321.5 170.4 L321.9 170.4 L322.2 170.4 L322.6 170.4 L322.9 170.4 L323.3 170.4 L323.6 170.4 L324.0 170.4 L324.4 170.4 L324.7 170.4 L325.1 170.4 L325.4 170.4 L325.8 170.4 L326.2 170.4 L326.5 170.3 L326.9 170.3 L327.2 170.3 L327.6 170.3 L327.9 170.3 L328.3 170.3 L328.7 170.3 L329.0 170.3 L329.4 170.3 L329.7 170.3 L330.1 170.2 L330.5 170.2 L330.8 170.2 L331.2 170.2 L331.5 170.2 L331.9 170.2 L332.2 170.2 L332.6 170.2 L333.0 170.1 L333.3 170.1 L333.7 170.1 L334.0 170.1 L334.4 170.1 L334.8 170.1 L335.1 170.1 L335.5 170.0 L335.8 170.0 L336.2 170.0 L336.5 170.0 L336.9 170.0 L337.3 169.9 L337.6 169.9 L338.0 169.9 L338.3 169.8 L338.7 169.8 L339.1 169.8 L339.4 169.7 L339.8 169.7 L340.1 169.6 L340.5 169.5 L340.8 169.4 L341.2 169.3 L341.6 169.3 L341.9 169.2 L342.3 169.1 L342.6 169.0 L343.0 168.9 L343.3 168.8 L343.7 168.7 L344.1 168.6 L344.4 168.4 L344.8 168.3 L345.1 168.2 L345.5 168.1 L345.9 167.9 L346.2 167.8 L346.6 167.6 L346.9 167.4 L347.3 167.3 L347.6 167.1 L348.0 166.9 L348.4 166.7 L348.7 166.5 L349.1 166.3 L349.4 166.1 L349.8 165.8 L350.2 165.6 L350.5 165.2 L350.9 164.9 L351.2 164.5 L351.6 163.9 L351.9 163.2 L352.3 162.4 L352.7 161.3 L353.0 160.1 L353.4 158.4 L353.7 156.1 L354.1 153.3 L354.5 150.1 L354.8 146.1 L355.2 141.2 L355.5 135.3 L355.9 128.2 L356.2 120.0 L356.6 110.5 L357.0 99.2 L357.3 86.3 L357.7 70.7 L358.0 53.2 L358.4 32.7 L358.7 25.9 L359.1 22.3 L359.5 18.6 L359.8 15.5 L360.2 12.8 L360.5 10.5 L360.9 8.4 L361.3 9.3 L361.6 13.4 L362.0 18.5 L362.3 25.0 L362.7 30.4 L363.0 34.4 L363.4 37.3 L363.8 37.5 L364.1 36.5 L364.5 35.8 L364.8 35.3 L365.2 41.0 L365.6 51.0 L365.9 58.1 L366.3 61.9 L366.6 64.6 L367.0 68.2 L367.3 72.5 L367.7 77.3 L368.1 73.7 L368.4 74.2 L368.8 80.5 L369.1 90.0 L369.5 98.1 L369.9 101.1 L370.2 102.9 L370.6 105.1 L370.9 109.5 L371.3 114.6 L371.6 114.5 L372.0 112.0 L372.4 108.9 L372.7 111.5 L373.1 111.2 L373.4 113.3 L373.8 112.4 L374.2 112.1 L374.5 111.7 L374.9 112.6 L375.2 111.8 L375.6 114.7 L375.9 112.8 L376.3 115.2 L376.7 112.7 L377.0 115.3 L377.4 116.5 L377.7 119.9 L378.1 120.5 L378.4 125.1 L378.8 126.9 L379.2 129.8 L379.5 131.5 L379.9 128.8 L380.2 129.4 L380.6 130.3 L381.0 132.5 L381.3 134.2 L381.7 132.3 L382.0 133.4 L382.4 133.1 L382.7 134.3 L383.1 136.2 L383.5 135.7 L383.8 137.3 L384.2 138.2 L384.5 138.3 L384.9 135.2 L385.3 133.2 L385.6 131.2 L386.0 131.9 L386.3 133.9 L386.7 137.1 L387.0 141.4 L387.4 143.1 L387.8 145.0 L388.1 143.6 L388.5 142.7 L388.8 142.9 L389.2 144.1 L389.6 146.5 L389.9 146.5 L390.3 146.2 L390.6 144.9 L391.0 145.8 L391.3 144.7 L391.7 144.5 L392.1 144.4 L392.4 146.8 L392.8 148.4 L393.1 148.5 L393.5 148.4 L393.8 148.0 L394.2 147.6 L394.6 146.4 L394.9 145.6 L395.3 145.7 L395.6 145.9 L396.0 146.7 L396.4 146.7 L396.7 145.3 L397.1 145.4 L397.4 143.5 L397.8 145.7 L398.1 145.5 L398.5 146.5 L398.9 146.7 L399.2 147.1 L399.6 148.7 L399.9 149.8 L400.3 150.9 L400.7 152.0 L401.0 151.4 L401.4 152.0 L401.7 151.2 L402.1 154.0 L402.4 154.2 L402.8 155.1 L403.2 153.9 L403.5 153.5 L403.9 153.7 L404.2 153.8 L404.6 154.3 L405.0 153.3 L405.3 153.2 L405.7 153.4 L406.0 155.2 L406.4 155.4 L406.7 156.3 L407.1 156.3 L407.5 155.4 L407.8 154.4 L408.2 154.2 L408.5 155.0 L408.9 154.8 L409.3 155.0 L409.6 154.8 L410.0 155.3 L410.3 155.7 L410.7 156.0 L411.0 157.7 L411.4 158.2 L411.8 158.9 L412.1 158.5 L412.5 158.5 L412.8 159.0 L413.2 159.0 L413.5 158.1 L413.9 157.7 L414.3 157.7 L414.6 158.4 L415.0 158.9 L415.3 158.7 L415.7 159.2 L416.1 158.8 L416.4 159.8 L416.8 159.8 L417.1 160.6 L417.5 160.6 L417.8 160.7 L418.2 161.2 L418.6 160.5 L418.9 160.9 L419.3 160.5 L419.6 161.1 L420.0 161.2 L420.4 162.0 L420.7 162.1 L421.1 162.6 L421.4 162.1 L421.8 162.1 L422.1 161.8 L422.5 162.2 L422.9 161.7 L423.2 161.2 L423.6 161.0 L423.9 161.6 L424.3 162.2 L424.7 161.8 L425.0 161.2 L425.4 161.7 L425.7 162.2 L426.1 163.0 L426.4 163.0 L426.8 163.3 L427.2 162.9 L427.5 162.9 L427.9 162.1 L428.2 162.0 L428.6 162.0 L428.9 162.7 L429.3 163.1 L429.7 162.5 L430.0 162.5 L430.4 162.7 L430.7 163.2 L431.1 162.9 L431.5 162.7 L431.8 162.3 L432.2 162.4 L432.5 162.2 L432.9 162.9 L433.2 163.0 L433.6 163.2 L434.0 163.6 L434.3 163.6 L434.7 164.1 L435.0 163.6 L435.4 164.1 L435.8 163.2 L436.1 163.2 L436.5 162.7 L436.8 163.0 L437.2 163.5 L437.5 164.3 L437.9 164.6 L438.3 164.2 L438.6 163.7 L439.0 163.5 L439.3 163.5 L439.7 163.9 L440.1 164.1 L440.4 163.9 L440.8 163.8 L441.1 164.3 L441.5 164.8 L441.8 164.8 L442.2 164.4 L442.6 164.5 L442.9 164.5 L443.3 165.1 L443.6 164.7 L444.0 164.5 L444.4 163.8 L444.7 164.3 L445.1 164.6 L445.4 165.5 L445.8 165.2 L446.1 165.3 L446.5 165.0 L446.9 165.0 L447.2 165.0 L447.6 164.7 L447.9 164.8 L448.3 164.8 L448.6 165.4 L449.0 165.6 L449.4 165.8 L449.7 165.4 L450.1 165.3 L450.4 165.0 L450.8 165.2 L451.2 165.3 L451.5 165.6 L451.9 165.5 L452.2 165.4 L452.6 165.6 L452.9 165.4 L453.3 165.5 L453.7 165.3 L454.0 165.6 L454.4 165.3 L454.7 165.8 L455.1 165.7 L455.5 166.1 L455.8 165.9 L456.2 165.8 L456.5 166.0 L456.9 166.2 L457.2 166.6 L457.6 166.4 L458.0 166.5 L458.3 166.4 L458.7 166.7 L459.0 166.6 L459.4 166.7 L459.8 166.5 L460.1 166.5 L460.5 166.6 L460.8 166.6 L461.2 166.6 L461.5 167.0 L461.9 167.0 L462.3 167.0 L462.6 166.6 L463.0 166.3 L463.3 166.3 L463.7 166.5 L464.1 166.9 L464.4 167.0 L464.8 166.9 L465.1 166.7 L465.5 166.9 L465.8 167.0 L466.2 167.0 L466.6 166.8 L466.9 166.8 L467.3 167.0 L467.6 167.3 L468.0 167.4 L468.3 167.5 L468.7 167.3 L469.1 167.2 L469.4 167.1 L469.8 167.1 L470.1 167.3 L470.5 167.4 L470.9 167.6 L471.2 167.6 L471.6 167.5 L471.9 167.5 L472.3 167.7 L472.6 167.9 L473.0 168.0 L473.4 168.0 L473.7 168.1 L474.1 167.9 L474.4 167.7 L474.8 167.7 L475.2 167.7 L475.5 167.8 L475.9 167.9 L476.2 168.0 L476.6 168.1 L476.9 168.1 L477.3 168.2 L477.7 168.3 L478.0 168.2 L478.4 168.0 L478.7 167.9 L479.1 168.0 L479.5 168.0 L479.8 168.2 L480.2 168.3 L480.5 168.4 L480.9 168.5 L481.2 168.4 L481.6 168.5 L482.0 168.4 L482.3 168.4 L482.7 168.5 L483.0 168.5 L483.4 168.5 L483.7 168.6 L484.1 168.6 L484.5 168.7 L484.8 168.7 L485.2 168.8 L485.5 168.9 L485.9 168.9 L486.3 168.8 L486.6 168.8 L487.0 168.8 L487.3 169.0 L487.7 169.0 L488.0 169.0 L488.4 168.9 L488.8 168.9 L489.1 169.0 L489.5 169.1 L489.8 169.2 L490.2 169.2 L490.6 169.2 L490.9 169.2 L491.3 169.2 L491.6 169.1 L492.0 169.2 L492.3 169.3 L492.7 169.3 L493.1 169.4 L493.4 169.3 L493.8 169.3 L494.1 169.3 L494.5 169.3 L494.9 169.4 L495.2 169.5 L495.6 169.4 L495.9 169.4 L496.3 169.5 L496.6 169.5 L497.0 169.5 L497.4 169.5 L497.7 169.5 L498.1 169.6 L498.4 169.6 L498.8 169.6 L499.2 169.6 L499.5 169.6 L499.9 169.7 L500.2 169.7 L500.6 169.7 L500.9 169.7 L501.3 169.8 L501.7 169.7 L502.0 169.7 L502.4 169.8 L502.7 169.8 L503.1 169.8 L503.4 169.8 L503.8 169.9 L504.2 169.9 L504.5 169.9" fill="none" stroke="#0072BD" stroke-width="2.30" stroke-linejoin="round" stroke-linecap="butt"/>
<path d="M321.5 170.4 L321.9 170.4 L322.2 170.4 L322.6 170.4 L322.9 170.4 L323.3 170.4 L323.6 170.4 L324.0 170.4 L324.4 170.4 L324.7 170.4 L325.1 170.4 L325.4 170.4 L325.8 170.4 L326.2 170.4 L326.5 170.4 L326.9 170.4 L327.2 170.4 L327.6 170.4 L327.9 170.4 L328.3 170.4 L328.7 170.4 L329.0 170.4 L329.4 170.4 L329.7 170.4 L330.1 170.4 L330.5 170.4 L330.8 170.4 L331.2 170.4 L331.5 170.4 L331.9 170.4 L332.2 170.4 L332.6 170.4 L333.0 170.4 L333.3 170.4 L333.7 170.4 L334.0 170.4 L334.4 170.4 L334.8 170.4 L335.1 170.4 L335.5 170.4 L335.8 170.4 L336.2 170.4 L336.5 170.4 L336.9 170.3 L337.3 170.3 L337.6 170.3 L338.0 170.3 L338.3 170.3 L338.7 170.3 L339.1 170.3 L339.4 170.3 L339.8 170.3 L340.1 170.3 L340.5 170.3 L340.8 170.3 L341.2 170.3 L341.6 170.3 L341.9 170.3 L342.3 170.3 L342.6 170.2 L343.0 170.2 L343.3 170.2 L343.7 170.2 L344.1 170.2 L344.4 170.2 L344.8 170.2 L345.1 170.2 L345.5 170.2 L345.9 170.2 L346.2 170.1 L346.6 170.1 L346.9 170.1 L347.3 170.1 L347.6 170.1 L348.0 170.1 L348.4 170.1 L348.7 170.1 L349.1 170.1 L349.4 170.0 L349.8 170.0 L350.2 170.0 L350.5 169.8 L350.9 169.4 L351.2 168.9 L351.6 168.2 L351.9 167.3 L352.3 166.2 L352.7 164.6 L353.0 162.1 L353.4 159.1 L353.7 155.8 L354.1 152.2 L354.5 148.1 L354.8 143.7 L355.2 138.9 L355.5 133.9 L355.9 128.4 L356.2 122.1 L356.6 114.5 L357.0 105.3 L357.3 95.1 L357.7 84.2 L358.0 71.5 L358.4 58.3 L358.7 46.2 L359.1 36.7 L359.5 29.2 L359.8 22.6 L360.2 16.4 L360.5 12.3 L360.9 10.2 L361.3 12.2 L361.6 14.6 L362.0 17.4 L362.3 20.6 L362.7 24.2 L363.0 28.0 L363.4 31.5 L363.8 35.0 L364.1 38.9 L364.5 43.5 L364.8 48.8 L365.2 54.4 L365.6 60.1 L365.9 65.5 L366.3 70.2 L366.6 74.3 L367.0 78.2 L367.3 81.7 L367.7 85.0 L368.1 87.8 L368.4 90.1 L368.8 92.0 L369.1 93.6 L369.5 95.1 L369.9 96.5 L370.2 97.8 L370.6 98.9 L370.9 100.1 L371.3 101.3 L371.6 102.5 L372.0 103.7 L372.4 105.0 L372.7 106.3 L373.1 107.6 L373.4 108.9 L373.8 110.1 L374.2 111.3 L374.5 112.5 L374.9 113.6 L375.2 114.6 L375.6 115.6 L375.9 116.5 L376.3 117.5 L376.7 118.3 L377.0 119.2 L377.4 120.0 L377.7 120.8 L378.1 121.6 L378.4 122.4 L378.8 123.1 L379.2 123.8 L379.5 124.5 L379.9 125.2 L380.2 125.9 L380.6 126.5 L381.0 127.2 L381.3 127.8 L381.7 128.4 L382.0 129.0 L382.4 129.6 L382.7 130.2 L383.1 130.8 L383.5 131.3 L383.8 131.9 L384.2 132.4 L384.5 132.9 L384.9 133.5 L385.3 134.0 L385.6 134.5 L386.0 135.0 L386.3 135.4 L386.7 135.9 L387.0 136.4 L387.4 136.8 L387.8 137.3 L388.1 137.7 L388.5 138.1 L388.8 138.5 L389.2 138.9 L389.6 139.3 L389.9 139.7 L390.3 140.1 L390.6 140.5 L391.0 140.8 L391.3 141.2 L391.7 141.5 L392.1 141.8 L392.4 142.2 L392.8 142.5 L393.1 142.8 L393.5 143.1 L393.8 143.4 L394.2 143.7 L394.6 144.0 L394.9 144.3 L395.3 144.5 L395.6 144.8 L396.0 145.1 L396.4 145.3 L396.7 145.6 L397.1 145.8 L397.4 146.1 L397.8 146.3 L398.1 146.5 L398.5 146.8 L398.9 147.0 L399.2 147.2 L399.6 147.4 L399.9 147.6 L400.3 147.8 L400.7 148.1 L401.0 148.3 L401.4 148.5 L401.7 148.7 L402.1 148.9 L402.4 149.1 L402.8 149.2 L403.2 149.4 L403.5 149.6 L403.9 149.8 L404.2 150.0 L404.6 150.2 L405.0 150.4 L405.3 150.5 L405.7 150.7 L406.0 150.9 L406.4 151.1 L406.7 151.2 L407.1 151.4 L407.5 151.6 L407.8 151.7 L408.2 151.9 L408.5 152.1 L408.9 152.2 L409.3 152.4 L409.6 152.6 L410.0 152.7 L410.3 152.9 L410.7 153.1 L411.0 153.2 L411.4 153.4 L411.8 153.6 L412.1 153.7 L412.5 153.9 L412.8 154.0 L413.2 154.2 L413.5 154.3 L413.9 154.5 L414.3 154.7 L414.6 154.8 L415.0 155.0 L415.3 155.1 L415.7 155.3 L416.1 155.4 L416.4 155.5 L416.8 155.7 L417.1 155.8 L417.5 156.0 L417.8 156.1 L418.2 156.2 L418.6 156.4 L418.9 156.5 L419.3 156.7 L419.6 156.8 L420.0 156.9 L420.4 157.0 L420.7 157.2 L421.1 157.3 L421.4 157.4 L421.8 157.5 L422.1 157.7 L422.5 157.8 L422.9 157.9 L423.2 158.0 L423.6 158.1 L423.9 158.3 L424.3 158.4 L424.7 158.5 L425.0 158.6 L425.4 158.7 L425.7 158.8 L426.1 158.9 L426.4 159.0 L426.8 159.1 L427.2 159.2 L427.5 159.4 L427.9 159.5 L428.2 159.6 L428.6 159.7 L428.9 159.7 L429.3 159.8 L429.7 159.9 L430.0 160.0 L430.4 160.1 L430.7 160.2 L431.1 160.3 L431.5 160.4 L431.8 160.5 L432.2 160.6 L432.5 160.7 L432.9 160.7 L433.2 160.8 L433.6 160.9 L434.0 161.0 L434.3 161.1 L434.7 161.2 L435.0 161.2 L435.4 161.3 L435.8 161.4 L436.1 161.5 L436.5 161.5 L436.8 161.6 L437.2 161.7 L437.5 161.8 L437.9 161.8 L438.3 161.9 L438.6 162.0 L439.0 162.1 L439.3 162.1 L439.7 162.2 L440.1 162.3 L440.4 162.3 L440.8 162.4 L441.1 162.5 L441.5 162.5 L441.8 162.6 L442.2 162.7 L442.6 162.7 L442.9 162.8 L443.3 162.9 L443.6 162.9 L444.0 163.0 L444.4 163.1 L444.7 163.1 L445.1 163.2 L445.4 163.3 L445.8 163.3 L446.1 163.4 L446.5 163.4 L446.9 163.5 L447.2 163.6 L447.6 163.6 L447.9 163.7 L448.3 163.7 L448.6 163.8 L449.0 163.9 L449.4 163.9 L449.7 164.0 L450.1 164.0 L450.4 164.1 L450.8 164.1 L451.2 164.2 L451.5 164.3 L451.9 164.3 L452.2 164.4 L452.6 164.4 L452.9 164.5 L453.3 164.5 L453.7 164.6 L454.0 164.6 L454.4 164.7 L454.7 164.7 L455.1 164.8 L455.5 164.8 L455.8 164.9 L456.2 164.9 L456.5 165.0 L456.9 165.0 L457.2 165.1 L457.6 165.1 L458.0 165.2 L458.3 165.2 L458.7 165.3 L459.0 165.3 L459.4 165.4 L459.8 165.4 L460.1 165.4 L460.5 165.5 L460.8 165.5 L461.2 165.6 L461.5 165.6 L461.9 165.6 L462.3 165.7 L462.6 165.7 L463.0 165.8 L463.3 165.8 L463.7 165.8 L464.1 165.9 L464.4 165.9 L464.8 165.9 L465.1 166.0 L465.5 166.0 L465.8 166.0 L466.2 166.1 L466.6 166.1 L466.9 166.1 L467.3 166.2 L467.6 166.2 L468.0 166.2 L468.3 166.3 L468.7 166.3 L469.1 166.3 L469.4 166.3 L469.8 166.4 L470.1 166.4 L470.5 166.4 L470.9 166.5 L471.2 166.5 L471.6 166.5 L471.9 166.5 L472.3 166.6 L472.6 166.6 L473.0 166.6 L473.4 166.6 L473.7 166.7 L474.1 166.7 L474.4 166.7 L474.8 166.7 L475.2 166.8 L475.5 166.8 L475.9 166.8 L476.2 166.8 L476.6 166.9 L476.9 166.9 L477.3 166.9 L477.7 166.9 L478.0 166.9 L478.4 167.0 L478.7 167.0 L479.1 167.0 L479.5 167.0 L479.8 167.1 L480.2 167.1 L480.5 167.1 L480.9 167.1 L481.2 167.2 L481.6 167.2 L482.0 167.2 L482.3 167.2 L482.7 167.2 L483.0 167.3 L483.4 167.3 L483.7 167.3 L484.1 167.3 L484.5 167.4 L484.8 167.4 L485.2 167.4 L485.5 167.4 L485.9 167.4 L486.3 167.5 L486.6 167.5 L487.0 167.5 L487.3 167.5 L487.7 167.5 L488.0 167.6 L488.4 167.6 L488.8 167.6 L489.1 167.6 L489.5 167.6 L489.8 167.7 L490.2 167.7 L490.6 167.7 L490.9 167.7 L491.3 167.7 L491.6 167.8 L492.0 167.8 L492.3 167.8 L492.7 167.8 L493.1 167.8 L493.4 167.9 L493.8 167.9 L494.1 167.9 L494.5 167.9 L494.9 167.9 L495.2 168.0 L495.6 168.0 L495.9 168.0 L496.3 168.0 L496.6 168.0 L497.0 168.0 L497.4 168.1 L497.7 168.1 L498.1 168.1 L498.4 168.1 L498.8 168.1 L499.2 168.2 L499.5 168.2 L499.9 168.2 L500.2 168.2 L500.6 168.2 L500.9 168.2 L501.3 168.3 L501.7 168.3 L502.0 168.3 L502.4 168.3 L502.7 168.3 L503.1 168.3 L503.4 168.4 L503.8 168.4 L504.2 168.4 L504.5 168.4" fill="none" stroke="#D95319" stroke-width="2.30" stroke-linejoin="round" stroke-linecap="butt"/>
<rect x="394.50" y="13.80" width="138.70" height="23.90" fill="#fff" stroke="#7c7c7c" stroke-width="0.8"/>
<line x1="397.50" y1="19.60" x2="417.10" y2="19.60" stroke="#0072BD" stroke-width="2"/>
<text x="418.50" y="22.80" class="lg" textLength="111.0" lengthAdjust="spacingAndGlyphs">Ku-band Airborne Waveform</text>
<line x1="397.50" y1="30.70" x2="417.10" y2="30.70" stroke="#D95319" stroke-width="2"/>
<text x="418.50" y="33.90" class="lg" textLength="89.2" lengthAdjust="spacingAndGlyphs">Final SAR Echo Model</text>
</g>
<g>
<line x1="69.32" y1="235.45" x2="69.32" y2="398.30" stroke="#e9e9e9" stroke-width="0.7"/>
<line x1="105.13" y1="235.45" x2="105.13" y2="398.30" stroke="#e9e9e9" stroke-width="0.7"/>
<line x1="140.95" y1="235.45" x2="140.95" y2="398.30" stroke="#e9e9e9" stroke-width="0.7"/>
<line x1="176.77" y1="235.45" x2="176.77" y2="398.30" stroke="#e9e9e9" stroke-width="0.7"/>
<line x1="212.58" y1="235.45" x2="212.58" y2="398.30" stroke="#e9e9e9" stroke-width="0.7"/>
<line x1="33.50" y1="365.73" x2="248.40" y2="365.73" stroke="#e9e9e9" stroke-width="0.7"/>
<line x1="33.50" y1="333.16" x2="248.40" y2="333.16" stroke="#e9e9e9" stroke-width="0.7"/>
<line x1="33.50" y1="300.59" x2="248.40" y2="300.59" stroke="#e9e9e9" stroke-width="0.7"/>
<line x1="33.50" y1="268.02" x2="248.40" y2="268.02" stroke="#e9e9e9" stroke-width="0.7"/>
<rect x="33.50" y="235.45" width="214.90" height="162.85" fill="none" stroke="#8a8a8a" stroke-width="1"/>
<line x1="33.50" y1="398.30" x2="33.50" y2="395.70" stroke="#5a5a5a" stroke-width="0.9"/>
<line x1="33.50" y1="235.45" x2="33.50" y2="238.05" stroke="#5a5a5a" stroke-width="0.9"/>
<text x="33.50" y="411.60" text-anchor="middle" class="tk" textLength="5.0" lengthAdjust="spacingAndGlyphs">0</text>
<line x1="69.32" y1="398.30" x2="69.32" y2="395.70" stroke="#5a5a5a" stroke-width="0.9"/>
<line x1="69.32" y1="235.45" x2="69.32" y2="238.05" stroke="#5a5a5a" stroke-width="0.9"/>
<text x="69.32" y="411.60" text-anchor="middle" class="tk" textLength="15.0" lengthAdjust="spacingAndGlyphs">100</text>
<line x1="105.13" y1="398.30" x2="105.13" y2="395.70" stroke="#5a5a5a" stroke-width="0.9"/>
<line x1="105.13" y1="235.45" x2="105.13" y2="238.05" stroke="#5a5a5a" stroke-width="0.9"/>
<text x="105.13" y="411.60" text-anchor="middle" class="tk" textLength="15.0" lengthAdjust="spacingAndGlyphs">200</text>
<line x1="140.95" y1="398.30" x2="140.95" y2="395.70" stroke="#5a5a5a" stroke-width="0.9"/>
<line x1="140.95" y1="235.45" x2="140.95" y2="238.05" stroke="#5a5a5a" stroke-width="0.9"/>
<text x="140.95" y="411.60" text-anchor="middle" class="tk" textLength="15.0" lengthAdjust="spacingAndGlyphs">300</text>
<line x1="176.77" y1="398.30" x2="176.77" y2="395.70" stroke="#5a5a5a" stroke-width="0.9"/>
<line x1="176.77" y1="235.45" x2="176.77" y2="238.05" stroke="#5a5a5a" stroke-width="0.9"/>
<text x="176.77" y="411.60" text-anchor="middle" class="tk" textLength="15.0" lengthAdjust="spacingAndGlyphs">400</text>
<line x1="212.58" y1="398.30" x2="212.58" y2="395.70" stroke="#5a5a5a" stroke-width="0.9"/>
<line x1="212.58" y1="235.45" x2="212.58" y2="238.05" stroke="#5a5a5a" stroke-width="0.9"/>
<text x="212.58" y="411.60" text-anchor="middle" class="tk" textLength="15.0" lengthAdjust="spacingAndGlyphs">500</text>
<line x1="248.40" y1="398.30" x2="248.40" y2="395.70" stroke="#5a5a5a" stroke-width="0.9"/>
<line x1="248.40" y1="235.45" x2="248.40" y2="238.05" stroke="#5a5a5a" stroke-width="0.9"/>
<text x="248.40" y="411.60" text-anchor="middle" class="tk" textLength="15.0" lengthAdjust="spacingAndGlyphs">600</text>
<line x1="33.50" y1="398.30" x2="36.10" y2="398.30" stroke="#5a5a5a" stroke-width="0.9"/>
<line x1="248.40" y1="398.30" x2="245.80" y2="398.30" stroke="#5a5a5a" stroke-width="0.9"/>
<text x="29.90" y="402.30" text-anchor="end" class="tk" textLength="5.0" lengthAdjust="spacingAndGlyphs">0</text>
<line x1="33.50" y1="365.73" x2="36.10" y2="365.73" stroke="#5a5a5a" stroke-width="0.9"/>
<line x1="248.40" y1="365.73" x2="245.80" y2="365.73" stroke="#5a5a5a" stroke-width="0.9"/>
<text x="29.90" y="369.73" text-anchor="end" class="tk" textLength="12.5" lengthAdjust="spacingAndGlyphs">0.2</text>
<line x1="33.50" y1="333.16" x2="36.10" y2="333.16" stroke="#5a5a5a" stroke-width="0.9"/>
<line x1="248.40" y1="333.16" x2="245.80" y2="333.16" stroke="#5a5a5a" stroke-width="0.9"/>
<text x="29.90" y="337.16" text-anchor="end" class="tk" textLength="12.5" lengthAdjust="spacingAndGlyphs">0.4</text>
<line x1="33.50" y1="300.59" x2="36.10" y2="300.59" stroke="#5a5a5a" stroke-width="0.9"/>
<line x1="248.40" y1="300.59" x2="245.80" y2="300.59" stroke="#5a5a5a" stroke-width="0.9"/>
<text x="29.90" y="304.59" text-anchor="end" class="tk" textLength="12.5" lengthAdjust="spacingAndGlyphs">0.6</text>
<line x1="33.50" y1="268.02" x2="36.10" y2="268.02" stroke="#5a5a5a" stroke-width="0.9"/>
<line x1="248.40" y1="268.02" x2="245.80" y2="268.02" stroke="#5a5a5a" stroke-width="0.9"/>
<text x="29.90" y="272.02" text-anchor="end" class="tk" textLength="12.5" lengthAdjust="spacingAndGlyphs">0.8</text>
<line x1="33.50" y1="235.45" x2="36.10" y2="235.45" stroke="#5a5a5a" stroke-width="0.9"/>
<line x1="248.40" y1="235.45" x2="245.80" y2="235.45" stroke="#5a5a5a" stroke-width="0.9"/>
<text x="29.90" y="239.45" text-anchor="end" class="tk" textLength="5.0" lengthAdjust="spacingAndGlyphs">1</text>
<text x="140.95" y="425.30" text-anchor="middle" class="al" textLength="62.6" lengthAdjust="spacingAndGlyphs">Gate Number</text>
<text transform="translate(12.10 317.77) rotate(-90)" text-anchor="middle" class="al" style="font-size:11.5px" textLength="28.9" lengthAdjust="spacingAndGlyphs">Power</text>
<text x="136.25" y="443.50" text-anchor="middle" class="cap">(<tspan font-weight="bold">c</tspan>)</text>
<path d="M33.5 398.2 L33.9 398.2 L34.2 398.2 L34.6 398.2 L34.9 398.2 L35.3 398.2 L35.6 398.2 L36.0 398.2 L36.4 398.2 L36.7 398.2 L37.1 398.2 L37.4 398.2 L37.8 398.2 L38.2 398.1 L38.5 398.1 L38.9 398.1 L39.2 398.1 L39.6 398.1 L39.9 398.1 L40.3 398.1 L40.7 398.1 L41.0 398.1 L41.4 398.1 L41.7 398.0 L42.1 398.0 L42.5 398.0 L42.8 398.0 L43.2 398.0 L43.5 398.0 L43.9 398.0 L44.2 398.0 L44.6 398.0 L45.0 398.0 L45.3 397.9 L45.7 397.9 L46.0 397.9 L46.4 397.9 L46.8 397.9 L47.1 397.9 L47.5 397.9 L47.8 397.8 L48.2 397.8 L48.5 397.8 L48.9 397.8 L49.3 397.8 L49.6 397.8 L50.0 397.7 L50.3 397.7 L50.7 397.7 L51.1 397.7 L51.4 397.6 L51.8 397.6 L52.1 397.6 L52.5 397.6 L52.8 397.5 L53.2 397.5 L53.6 397.5 L53.9 397.4 L54.3 397.4 L54.6 397.3 L55.0 397.3 L55.3 397.2 L55.7 397.2 L56.1 397.1 L56.4 397.1 L56.8 397.0 L57.1 396.9 L57.5 396.9 L57.9 396.8 L58.2 396.7 L58.6 396.7 L58.9 396.6 L59.3 396.5 L59.6 396.4 L60.0 396.3 L60.4 396.2 L60.7 396.0 L61.1 395.9 L61.4 395.8 L61.8 395.6 L62.2 395.4 L62.5 395.2 L62.9 395.0 L63.2 394.8 L63.6 394.6 L63.9 394.3 L64.3 394.0 L64.7 393.6 L65.0 393.1 L65.4 392.2 L65.7 390.9 L66.1 389.4 L66.5 387.5 L66.8 385.1 L67.2 381.7 L67.5 376.4 L67.9 369.8 L68.2 363.0 L68.6 355.6 L69.0 347.2 L69.3 337.6 L69.7 325.7 L70.0 310.8 L70.4 292.4 L70.7 267.5 L71.1 252.2 L71.5 241.6 L71.8 236.0 L72.2 238.4 L72.5 242.8 L72.9 247.0 L73.3 251.7 L73.6 257.9 L74.0 264.8 L74.3 271.5 L74.7 278.1 L75.0 284.3 L75.4 290.4 L75.8 296.2 L76.1 300.7 L76.5 303.4 L76.8 305.4 L77.2 306.3 L77.6 306.2 L77.9 306.0 L78.3 305.7 L78.6 305.5 L79.0 306.9 L79.3 314.1 L79.7 318.7 L80.1 321.7 L80.4 327.5 L80.8 328.1 L81.1 332.4 L81.5 337.9 L81.9 340.7 L82.2 342.9 L82.6 343.8 L82.9 343.1 L83.3 341.4 L83.6 336.1 L84.0 337.1 L84.4 337.2 L84.7 340.3 L85.1 341.3 L85.4 342.2 L85.8 344.1 L86.2 346.3 L86.5 351.2 L86.9 352.8 L87.2 357.2 L87.6 357.5 L87.9 358.8 L88.3 357.4 L88.7 357.1 L89.0 361.2 L89.4 362.6 L89.7 363.7 L90.1 361.3 L90.4 363.3 L90.8 364.3 L91.2 363.6 L91.5 364.3 L91.9 364.3 L92.2 365.2 L92.6 364.5 L93.0 364.5 L93.3 366.7 L93.7 366.9 L94.0 368.3 L94.4 367.1 L94.7 366.5 L95.1 364.8 L95.5 365.9 L95.8 366.0 L96.2 366.0 L96.5 364.6 L96.9 365.8 L97.3 366.1 L97.6 367.1 L98.0 365.5 L98.3 365.9 L98.7 364.3 L99.0 364.6 L99.4 367.2 L99.8 370.5 L100.1 371.2 L100.5 371.2 L100.8 370.6 L101.2 372.2 L101.6 373.4 L101.9 374.1 L102.3 375.4 L102.6 376.9 L103.0 376.7 L103.3 377.9 L103.7 376.6 L104.1 377.7 L104.4 376.7 L104.8 378.3 L105.1 378.3 L105.5 379.2 L105.8 379.0 L106.2 379.7 L106.6 378.2 L106.9 377.1 L107.3 376.1 L107.6 376.7 L108.0 376.3 L108.4 376.2 L108.7 374.4 L109.1 372.3 L109.4 371.0 L109.8 370.8 L110.1 373.0 L110.5 374.8 L110.9 376.7 L111.2 378.0 L111.6 378.5 L111.9 379.5 L112.3 379.6 L112.7 381.1 L113.0 382.3 L113.4 384.3 L113.7 384.8 L114.1 384.8 L114.4 384.8 L114.8 384.8 L115.2 384.8 L115.5 384.4 L115.9 384.5 L116.2 384.3 L116.6 384.1 L117.0 383.6 L117.3 383.4 L117.7 382.8 L118.0 383.0 L118.4 383.7 L118.7 384.0 L119.1 383.8 L119.5 384.4 L119.8 384.0 L120.2 384.0 L120.5 383.0 L120.9 384.3 L121.3 384.0 L121.6 384.7 L122.0 384.6 L122.3 385.9 L122.7 385.9 L123.0 386.2 L123.4 385.9 L123.8 385.8 L124.1 385.9 L124.5 385.5 L124.8 385.9 L125.2 386.2 L125.5 386.4 L125.9 385.7 L126.3 384.4 L126.6 383.7 L127.0 384.2 L127.3 384.2 L127.7 383.6 L128.1 382.6 L128.4 382.9 L128.8 383.5 L129.1 384.1 L129.5 384.1 L129.8 384.8 L130.2 384.7 L130.6 385.4 L130.9 386.2 L131.3 387.0 L131.6 387.2 L132.0 387.4 L132.4 387.9 L132.7 389.0 L133.1 388.7 L133.4 388.9 L133.8 388.9 L134.1 389.8 L134.5 389.8 L134.9 389.0 L135.2 388.6 L135.6 388.5 L135.9 389.1 L136.3 389.5 L136.7 389.5 L137.0 389.1 L137.4 388.8 L137.7 388.8 L138.1 389.2 L138.4 389.4 L138.8 389.5 L139.2 388.8 L139.5 388.8 L139.9 388.7 L140.2 389.4 L140.6 389.4 L140.9 389.9 L141.3 390.3 L141.7 390.4 L142.0 390.1 L142.4 389.9 L142.7 390.0 L143.1 390.0 L143.5 390.3 L143.8 390.7 L144.2 391.3 L144.5 391.3 L144.9 390.7 L145.2 390.5 L145.6 390.5 L146.0 391.0 L146.3 390.5 L146.7 390.5 L147.0 390.6 L147.4 391.3 L147.8 391.0 L148.1 390.9 L148.5 391.2 L148.8 391.7 L149.2 391.6 L149.5 391.5 L149.9 391.7 L150.3 391.6 L150.6 391.5 L151.0 391.3 L151.3 391.7 L151.7 391.8 L152.1 392.0 L152.4 392.3 L152.8 392.3 L153.1 392.5 L153.5 392.3 L153.8 392.7 L154.2 392.5 L154.6 392.6 L154.9 392.1 L155.3 392.4 L155.6 392.7 L156.0 393.1 L156.4 393.2 L156.7 393.1 L157.1 393.0 L157.4 392.8 L157.8 392.5 L158.1 392.8 L158.5 392.5 L158.9 392.6 L159.2 392.5 L159.6 393.4 L159.9 393.7 L160.3 393.7 L160.6 393.8 L161.0 393.8 L161.4 393.9 L161.7 393.8 L162.1 393.7 L162.4 393.6 L162.8 393.6 L163.2 393.7 L163.5 394.0 L163.9 394.1 L164.2 394.2 L164.6 394.1 L164.9 394.1 L165.3 394.4 L165.7 394.4 L166.0 394.6 L166.4 394.4 L166.7 394.3 L167.1 394.1 L167.5 394.3 L167.8 394.7 L168.2 394.6 L168.5 394.5 L168.9 394.4 L169.2 394.4 L169.6 394.5 L170.0 394.6 L170.3 394.8 L170.7 395.2 L171.0 395.4 L171.4 395.3 L171.8 395.0 L172.1 394.9 L172.5 394.9 L172.8 394.9 L173.2 394.9 L173.5 395.0 L173.9 395.1 L174.3 395.4 L174.6 395.2 L175.0 395.2 L175.3 395.1 L175.7 395.1 L176.1 395.0 L176.4 395.1 L176.8 395.2 L177.1 395.5 L177.5 395.5 L177.8 395.5 L178.2 395.6 L178.6 395.6 L178.9 395.7 L179.3 395.5 L179.6 395.7 L180.0 395.6 L180.3 395.6 L180.7 395.6 L181.1 395.9 L181.4 396.0 L181.8 395.9 L182.1 395.9 L182.5 395.9 L182.9 396.0 L183.2 396.2 L183.6 396.2 L183.9 396.4 L184.3 396.2 L184.6 396.2 L185.0 396.2 L185.4 396.3 L185.7 396.4 L186.1 396.3 L186.4 396.4 L186.8 396.3 L187.2 396.4 L187.5 396.3 L187.9 396.3 L188.2 396.3 L188.6 396.4 L188.9 396.4 L189.3 396.4 L189.7 396.5 L190.0 396.4 L190.4 396.5 L190.7 396.6 L191.1 396.6 L191.5 396.5 L191.8 396.5 L192.2 396.6 L192.5 396.7 L192.9 396.7 L193.2 396.7 L193.6 396.7 L194.0 396.8 L194.3 396.9 L194.7 397.0 L195.0 396.9 L195.4 397.0 L195.7 397.0 L196.1 397.0 L196.5 396.9 L196.8 397.0 L197.2 397.0 L197.5 397.1 L197.9 397.0 L198.3 397.1 L198.6 397.1 L199.0 397.2 L199.3 397.2 L199.7 397.1 L200.0 397.1 L200.4 397.2 L200.8 397.2 L201.1 397.2 L201.5 397.2 L201.8 397.2 L202.2 397.3 L202.6 397.3 L202.9 397.4 L203.3 397.3 L203.6 397.3 L204.0 397.3 L204.3 397.4 L204.7 397.4 L205.1 397.4 L205.4 397.4 L205.8 397.4 L206.1 397.4 L206.5 397.5 L206.9 397.5 L207.2 397.5 L207.6 397.5 L207.9 397.6 L208.3 397.6 L208.6 397.6 L209.0 397.6 L209.4 397.6 L209.7 397.6 L210.1 397.6 L210.4 397.7 L210.8 397.6 L211.2 397.6 L211.5 397.7 L211.9 397.7 L212.2 397.7 L212.6 397.7 L212.9 397.7 L213.3 397.8 L213.7 397.7 L214.0 397.8 L214.4 397.8 L214.7 397.8 L215.1 397.8 L215.4 397.8 L215.8 397.8 L216.2 397.8 L216.5 397.9" fill="none" stroke="#0072BD" stroke-width="2.30" stroke-linejoin="round" stroke-linecap="butt"/>
<path d="M33.5 398.2 L33.9 398.2 L34.2 398.2 L34.6 398.2 L34.9 398.2 L35.3 398.2 L35.6 398.2 L36.0 398.2 L36.4 398.2 L36.7 398.2 L37.1 398.2 L37.4 398.2 L37.8 398.2 L38.2 398.2 L38.5 398.2 L38.9 398.2 L39.2 398.2 L39.6 398.2 L39.9 398.2 L40.3 398.2 L40.7 398.2 L41.0 398.2 L41.4 398.2 L41.7 398.2 L42.1 398.2 L42.5 398.2 L42.8 398.2 L43.2 398.2 L43.5 398.2 L43.9 398.2 L44.2 398.2 L44.6 398.2 L45.0 398.2 L45.3 398.2 L45.7 398.2 L46.0 398.2 L46.4 398.2 L46.8 398.2 L47.1 398.2 L47.5 398.2 L47.8 398.2 L48.2 398.2 L48.5 398.2 L48.9 398.2 L49.3 398.2 L49.6 398.2 L50.0 398.2 L50.3 398.2 L50.7 398.2 L51.1 398.2 L51.4 398.2 L51.8 398.2 L52.1 398.2 L52.5 398.2 L52.8 398.2 L53.2 398.2 L53.6 398.2 L53.9 398.1 L54.3 398.1 L54.6 398.1 L55.0 398.1 L55.3 398.1 L55.7 398.1 L56.1 398.1 L56.4 398.0 L56.8 397.9 L57.1 397.9 L57.5 397.8 L57.9 397.6 L58.2 397.4 L58.6 397.0 L58.9 396.3 L59.3 395.3 L59.6 393.7 L60.0 391.8 L60.4 389.3 L60.7 386.1 L61.1 382.0 L61.4 376.1 L61.8 368.1 L62.2 359.2 L62.5 349.5 L62.9 338.1 L63.2 324.7 L63.6 308.0 L63.9 287.8 L64.3 269.7 L64.7 257.0 L65.0 247.4 L65.4 241.0 L65.7 236.5 L66.1 237.6 L66.5 241.4 L66.8 245.2 L67.2 249.1 L67.5 252.9 L67.9 256.9 L68.2 261.5 L68.6 267.2 L69.0 273.8 L69.3 279.9 L69.7 285.0 L70.0 289.7 L70.4 294.1 L70.7 298.2 L71.1 302.2 L71.5 306.2 L71.8 310.2 L72.2 313.8 L72.5 317.1 L72.9 319.8 L73.3 322.0 L73.6 324.0 L74.0 325.7 L74.3 327.3 L74.7 328.8 L75.0 330.3 L75.4 331.7 L75.8 333.2 L76.1 334.6 L76.5 336.1 L76.8 337.5 L77.2 338.9 L77.6 340.3 L77.9 341.6 L78.3 342.8 L78.6 344.1 L79.0 345.2 L79.3 346.3 L79.7 347.3 L80.1 348.2 L80.4 349.1 L80.8 349.9 L81.1 350.8 L81.5 351.6 L81.9 352.3 L82.2 353.1 L82.6 353.8 L82.9 354.6 L83.3 355.2 L83.6 355.9 L84.0 356.6 L84.4 357.2 L84.7 357.8 L85.1 358.4 L85.4 359.0 L85.8 359.6 L86.2 360.1 L86.5 360.6 L86.9 361.2 L87.2 361.7 L87.6 362.1 L87.9 362.6 L88.3 363.1 L88.7 363.5 L89.0 364.0 L89.4 364.4 L89.7 364.8 L90.1 365.2 L90.4 365.6 L90.8 366.0 L91.2 366.4 L91.5 366.7 L91.9 367.1 L92.2 367.4 L92.6 367.8 L93.0 368.1 L93.3 368.4 L93.7 368.7 L94.0 369.0 L94.4 369.3 L94.7 369.6 L95.1 369.9 L95.5 370.1 L95.8 370.4 L96.2 370.6 L96.5 370.9 L96.9 371.1 L97.3 371.4 L97.6 371.6 L98.0 371.9 L98.3 372.1 L98.7 372.3 L99.0 372.5 L99.4 372.8 L99.8 373.0 L100.1 373.2 L100.5 373.4 L100.8 373.7 L101.2 373.9 L101.6 374.1 L101.9 374.3 L102.3 374.5 L102.6 374.8 L103.0 375.0 L103.3 375.2 L103.7 375.4 L104.1 375.6 L104.4 375.9 L104.8 376.1 L105.1 376.3 L105.5 376.5 L105.8 376.8 L106.2 377.0 L106.6 377.2 L106.9 377.5 L107.3 377.7 L107.6 377.9 L108.0 378.1 L108.4 378.3 L108.7 378.6 L109.1 378.8 L109.4 379.0 L109.8 379.2 L110.1 379.4 L110.5 379.6 L110.9 379.9 L111.2 380.1 L111.6 380.3 L111.9 380.5 L112.3 380.7 L112.7 380.9 L113.0 381.1 L113.4 381.3 L113.7 381.5 L114.1 381.7 L114.4 381.9 L114.8 382.1 L115.2 382.3 L115.5 382.5 L115.9 382.6 L116.2 382.8 L116.6 383.0 L117.0 383.2 L117.3 383.4 L117.7 383.5 L118.0 383.7 L118.4 383.9 L118.7 384.1 L119.1 384.2 L119.5 384.4 L119.8 384.6 L120.2 384.7 L120.5 384.9 L120.9 385.0 L121.3 385.2 L121.6 385.3 L122.0 385.5 L122.3 385.6 L122.7 385.8 L123.0 385.9 L123.4 386.1 L123.8 386.2 L124.1 386.3 L124.5 386.5 L124.8 386.6 L125.2 386.8 L125.5 386.9 L125.9 387.0 L126.3 387.2 L126.6 387.3 L127.0 387.4 L127.3 387.6 L127.7 387.7 L128.1 387.8 L128.4 387.9 L128.8 388.1 L129.1 388.2 L129.5 388.3 L129.8 388.4 L130.2 388.5 L130.6 388.7 L130.9 388.8 L131.3 388.9 L131.6 389.0 L132.0 389.1 L132.4 389.2 L132.7 389.3 L133.1 389.4 L133.4 389.5 L133.8 389.6 L134.1 389.7 L134.5 389.8 L134.9 389.9 L135.2 390.0 L135.6 390.1 L135.9 390.2 L136.3 390.3 L136.7 390.4 L137.0 390.5 L137.4 390.6 L137.7 390.6 L138.1 390.7 L138.4 390.8 L138.8 390.9 L139.2 390.9 L139.5 391.0 L139.9 391.1 L140.2 391.2 L140.6 391.2 L140.9 391.3 L141.3 391.4 L141.7 391.4 L142.0 391.5 L142.4 391.6 L142.7 391.6 L143.1 391.7 L143.5 391.7 L143.8 391.8 L144.2 391.8 L144.5 391.9 L144.9 392.0 L145.2 392.0 L145.6 392.1 L146.0 392.1 L146.3 392.2 L146.7 392.2 L147.0 392.3 L147.4 392.3 L147.8 392.4 L148.1 392.4 L148.5 392.5 L148.8 392.5 L149.2 392.6 L149.5 392.6 L149.9 392.6 L150.3 392.7 L150.6 392.7 L151.0 392.8 L151.3 392.8 L151.7 392.9 L152.1 392.9 L152.4 392.9 L152.8 393.0 L153.1 393.0 L153.5 393.1 L153.8 393.1 L154.2 393.1 L154.6 393.2 L154.9 393.2 L155.3 393.3 L155.6 393.3 L156.0 393.3 L156.4 393.4 L156.7 393.4 L157.1 393.4 L157.4 393.5 L157.8 393.5 L158.1 393.5 L158.5 393.6 L158.9 393.6 L159.2 393.6 L159.6 393.7 L159.9 393.7 L160.3 393.7 L160.6 393.8 L161.0 393.8 L161.4 393.8 L161.7 393.9 L162.1 393.9 L162.4 393.9 L162.8 394.0 L163.2 394.0 L163.5 394.0 L163.9 394.1 L164.2 394.1 L164.6 394.1 L164.9 394.1 L165.3 394.2 L165.7 394.2 L166.0 394.2 L166.4 394.3 L166.7 394.3 L167.1 394.3 L167.5 394.3 L167.8 394.4 L168.2 394.4 L168.5 394.4 L168.9 394.5 L169.2 394.5 L169.6 394.5 L170.0 394.5 L170.3 394.6 L170.7 394.6 L171.0 394.6 L171.4 394.6 L171.8 394.7 L172.1 394.7 L172.5 394.7 L172.8 394.8 L173.2 394.8 L173.5 394.8 L173.9 394.8 L174.3 394.9 L174.6 394.9 L175.0 394.9 L175.3 394.9 L175.7 395.0 L176.1 395.0 L176.4 395.0 L176.8 395.0 L177.1 395.1 L177.5 395.1 L177.8 395.1 L178.2 395.1 L178.6 395.2 L178.9 395.2 L179.3 395.2 L179.6 395.2 L180.0 395.3 L180.3 395.3 L180.7 395.3 L181.1 395.3 L181.4 395.4 L181.8 395.4 L182.1 395.4 L182.5 395.4 L182.9 395.5 L183.2 395.5 L183.6 395.5 L183.9 395.5 L184.3 395.5 L184.6 395.6 L185.0 395.6 L185.4 395.6 L185.7 395.6 L186.1 395.7 L186.4 395.7 L186.8 395.7 L187.2 395.7 L187.5 395.7 L187.9 395.8 L188.2 395.8 L188.6 395.8 L188.9 395.8 L189.3 395.8 L189.7 395.9 L190.0 395.9 L190.4 395.9 L190.7 395.9 L191.1 395.9 L191.5 396.0 L191.8 396.0 L192.2 396.0 L192.5 396.0 L192.9 396.0 L193.2 396.1 L193.6 396.1 L194.0 396.1 L194.3 396.1 L194.7 396.1 L195.0 396.1 L195.4 396.2 L195.7 396.2 L196.1 396.2 L196.5 396.2 L196.8 396.2 L197.2 396.3 L197.5 396.3 L197.9 396.3 L198.3 396.3 L198.6 396.3 L199.0 396.3 L199.3 396.4 L199.7 396.4 L200.0 396.4 L200.4 396.4 L200.8 396.4 L201.1 396.4 L201.5 396.5 L201.8 396.5 L202.2 396.5 L202.6 396.5 L202.9 396.5 L203.3 396.5 L203.6 396.5 L204.0 396.6 L204.3 396.6 L204.7 396.6 L205.1 396.6 L205.4 396.6 L205.8 396.6 L206.1 396.6 L206.5 396.7 L206.9 396.7 L207.2 396.7 L207.6 396.7 L207.9 396.7 L208.3 396.7 L208.6 396.7 L209.0 396.8 L209.4 396.8 L209.7 396.8 L210.1 396.8 L210.4 396.8 L210.8 396.8 L211.2 396.8 L211.5 396.8 L211.9 396.9 L212.2 396.9 L212.6 396.9 L212.9 396.9 L213.3 396.9 L213.7 396.9 L214.0 396.9 L214.4 396.9 L214.7 397.0 L215.1 397.0 L215.4 397.0 L215.8 397.0 L216.2 397.0 L216.5 397.0" fill="none" stroke="#D95319" stroke-width="2.30" stroke-linejoin="round" stroke-linecap="butt"/>
<path d="M33.5 398.2 L33.9 398.2 L34.2 398.2 L34.6 398.2 L34.9 398.2 L35.3 398.2 L35.6 398.2 L36.0 398.2 L36.4 398.2 L36.7 398.2 L37.1 398.2 L37.4 398.2 L37.8 398.2 L38.2 398.2 L38.5 398.2 L38.9 398.2 L39.2 398.2 L39.6 398.2 L39.9 398.2 L40.3 398.2 L40.7 398.2 L41.0 398.2 L41.4 398.2 L41.7 398.2 L42.1 398.2 L42.5 398.2 L42.8 398.2 L43.2 398.2 L43.5 398.2 L43.9 398.2 L44.2 398.2 L44.6 398.2 L45.0 398.2 L45.3 398.2 L45.7 398.2 L46.0 398.2 L46.4 398.2 L46.8 398.2 L47.1 398.2 L47.5 398.2 L47.8 398.2 L48.2 398.2 L48.5 398.2 L48.9 398.2 L49.3 398.2 L49.6 398.2 L50.0 398.2 L50.3 398.1 L50.7 398.1 L51.1 398.1 L51.4 398.1 L51.8 398.1 L52.1 398.1 L52.5 398.0 L52.8 397.9 L53.2 397.8 L53.6 397.7 L53.9 397.4 L54.3 397.1 L54.6 396.8 L55.0 396.3 L55.3 395.8 L55.7 395.2 L56.1 394.4 L56.4 393.6 L56.8 392.6 L57.1 391.5 L57.5 390.2 L57.9 388.7 L58.2 387.0 L58.6 385.3 L58.9 383.4 L59.3 381.3 L59.6 379.0 L60.0 376.5 L60.4 373.9 L60.7 371.0 L61.1 367.9 L61.4 364.5 L61.8 360.8 L62.2 356.9 L62.5 352.6 L62.9 347.8 L63.2 342.4 L63.6 336.3 L63.9 329.9 L64.3 322.9 L64.7 315.7 L65.0 308.7 L65.4 301.8 L65.7 295.0 L66.1 289.2 L66.5 284.3 L66.8 280.0 L67.2 277.0 L67.5 274.9 L67.9 273.2 L68.2 272.4 L68.6 273.3 L69.0 274.6 L69.3 276.1 L69.7 277.8 L70.0 279.8 L70.4 282.3 L70.7 284.9 L71.1 287.6 L71.5 290.2 L71.8 293.0 L72.2 295.8 L72.5 298.5 L72.9 301.3 L73.3 303.8 L73.6 306.4 L74.0 308.9 L74.3 311.3 L74.7 313.7 L75.0 315.9 L75.4 318.1 L75.8 320.1 L76.1 322.0 L76.5 323.9 L76.8 325.6 L77.2 327.3 L77.6 328.9 L77.9 330.4 L78.3 331.8 L78.6 333.2 L79.0 334.4 L79.3 335.6 L79.7 336.8 L80.1 337.9 L80.4 338.9 L80.8 339.9 L81.1 340.9 L81.5 341.9 L81.9 342.8 L82.2 343.7 L82.6 344.6 L82.9 345.5 L83.3 346.4 L83.6 347.2 L84.0 348.1 L84.4 348.9 L84.7 349.8 L85.1 350.6 L85.4 351.5 L85.8 352.3 L86.2 353.1 L86.5 353.9 L86.9 354.7 L87.2 355.5 L87.6 356.2 L87.9 357.0 L88.3 357.7 L88.7 358.4 L89.0 359.1 L89.4 359.8 L89.7 360.4 L90.1 361.0 L90.4 361.7 L90.8 362.3 L91.2 362.8 L91.5 363.4 L91.9 363.9 L92.2 364.4 L92.6 364.9 L93.0 365.3 L93.3 365.8 L93.7 366.2 L94.0 366.6 L94.4 366.9 L94.7 367.3 L95.1 367.6 L95.5 368.0 L95.8 368.3 L96.2 368.6 L96.5 368.9 L96.9 369.2 L97.3 369.5 L97.6 369.7 L98.0 370.0 L98.3 370.2 L98.7 370.5 L99.0 370.7 L99.4 371.0 L99.8 371.2 L100.1 371.5 L100.5 371.7 L100.8 371.9 L101.2 372.1 L101.6 372.4 L101.9 372.6 L102.3 372.8 L102.6 373.0 L103.0 373.3 L103.3 373.5 L103.7 373.7 L104.1 374.0 L104.4 374.2 L104.8 374.4 L105.1 374.7 L105.5 374.9 L105.8 375.2 L106.2 375.4 L106.6 375.7 L106.9 375.9 L107.3 376.1 L107.6 376.4 L108.0 376.6 L108.4 376.9 L108.7 377.1 L109.1 377.3 L109.4 377.6 L109.8 377.8 L110.1 378.0 L110.5 378.3 L110.9 378.5 L111.2 378.7 L111.6 378.9 L111.9 379.2 L112.3 379.4 L112.7 379.6 L113.0 379.8 L113.4 380.0 L113.7 380.3 L114.1 380.5 L114.4 380.7 L114.8 380.9 L115.2 381.1 L115.5 381.3 L115.9 381.5 L116.2 381.7 L116.6 381.9 L117.0 382.1 L117.3 382.3 L117.7 382.4 L118.0 382.6 L118.4 382.8 L118.7 383.0 L119.1 383.2 L119.5 383.3 L119.8 383.5 L120.2 383.7 L120.5 383.9 L120.9 384.0 L121.3 384.2 L121.6 384.3 L122.0 384.5 L122.3 384.6 L122.7 384.8 L123.0 384.9 L123.4 385.1 L123.8 385.2 L124.1 385.4 L124.5 385.5 L124.8 385.7 L125.2 385.8 L125.5 385.9 L125.9 386.1 L126.3 386.2 L126.6 386.4 L127.0 386.5 L127.3 386.6 L127.7 386.8 L128.1 386.9 L128.4 387.0 L128.8 387.1 L129.1 387.3 L129.5 387.4 L129.8 387.5 L130.2 387.6 L130.6 387.7 L130.9 387.9 L131.3 388.0 L131.6 388.1 L132.0 388.2 L132.4 388.3 L132.7 388.4 L133.1 388.5 L133.4 388.6 L133.8 388.7 L134.1 388.8 L134.5 388.9 L134.9 389.0 L135.2 389.1 L135.6 389.2 L135.9 389.3 L136.3 389.4 L136.7 389.5 L137.0 389.6 L137.4 389.7 L137.7 389.8 L138.1 389.9 L138.4 389.9 L138.8 390.0 L139.2 390.1 L139.5 390.2 L139.9 390.3 L140.2 390.3 L140.6 390.4 L140.9 390.5 L141.3 390.6 L141.7 390.6 L142.0 390.7 L142.4 390.8 L142.7 390.8 L143.1 390.9 L143.5 391.0 L143.8 391.0 L144.2 391.1 L144.5 391.1 L144.9 391.2 L145.2 391.3 L145.6 391.3 L146.0 391.4 L146.3 391.4 L146.7 391.5 L147.0 391.6 L147.4 391.6 L147.8 391.7 L148.1 391.7 L148.5 391.8 L148.8 391.8 L149.2 391.9 L149.5 391.9 L149.9 392.0 L150.3 392.0 L150.6 392.1 L151.0 392.1 L151.3 392.2 L151.7 392.2 L152.1 392.3 L152.4 392.3 L152.8 392.4 L153.1 392.4 L153.5 392.5 L153.8 392.5 L154.2 392.6 L154.6 392.6 L154.9 392.6 L155.3 392.7 L155.6 392.7 L156.0 392.8 L156.4 392.8 L156.7 392.9 L157.1 392.9 L157.4 392.9 L157.8 393.0 L158.1 393.0 L158.5 393.0 L158.9 393.1 L159.2 393.1 L159.6 393.2 L159.9 393.2 L160.3 393.2 L160.6 393.3 L161.0 393.3 L161.4 393.4 L161.7 393.4 L162.1 393.4 L162.4 393.5 L162.8 393.5 L163.2 393.5 L163.5 393.6 L163.9 393.6 L164.2 393.6 L164.6 393.7 L164.9 393.7 L165.3 393.7 L165.7 393.8 L166.0 393.8 L166.4 393.8 L166.7 393.9 L167.1 393.9 L167.5 393.9 L167.8 394.0 L168.2 394.0 L168.5 394.0 L168.9 394.1 L169.2 394.1 L169.6 394.1 L170.0 394.2 L170.3 394.2 L170.7 394.2 L171.0 394.2 L171.4 394.3 L171.8 394.3 L172.1 394.3 L172.5 394.4 L172.8 394.4 L173.2 394.4 L173.5 394.5 L173.9 394.5 L174.3 394.5 L174.6 394.5 L175.0 394.6 L175.3 394.6 L175.7 394.6 L176.1 394.7 L176.4 394.7 L176.8 394.7 L177.1 394.7 L177.5 394.8 L177.8 394.8 L178.2 394.8 L178.6 394.9 L178.9 394.9 L179.3 394.9 L179.6 394.9 L180.0 395.0 L180.3 395.0 L180.7 395.0 L181.1 395.0 L181.4 395.1 L181.8 395.1 L182.1 395.1 L182.5 395.1 L182.9 395.2 L183.2 395.2 L183.6 395.2 L183.9 395.2 L184.3 395.3 L184.6 395.3 L185.0 395.3 L185.4 395.3 L185.7 395.4 L186.1 395.4 L186.4 395.4 L186.8 395.4 L187.2 395.5 L187.5 395.5 L187.9 395.5 L188.2 395.5 L188.6 395.5 L188.9 395.6 L189.3 395.6 L189.7 395.6 L190.0 395.6 L190.4 395.7 L190.7 395.7 L191.1 395.7 L191.5 395.7 L191.8 395.7 L192.2 395.8 L192.5 395.8 L192.9 395.8 L193.2 395.8 L193.6 395.8 L194.0 395.9 L194.3 395.9 L194.7 395.9 L195.0 395.9 L195.4 395.9 L195.7 396.0 L196.1 396.0 L196.5 396.0 L196.8 396.0 L197.2 396.0 L197.5 396.1 L197.9 396.1 L198.3 396.1 L198.6 396.1 L199.0 396.1 L199.3 396.1 L199.7 396.2 L200.0 396.2 L200.4 396.2 L200.8 396.2 L201.1 396.2 L201.5 396.2 L201.8 396.3 L202.2 396.3 L202.6 396.3 L202.9 396.3 L203.3 396.3 L203.6 396.3 L204.0 396.4 L204.3 396.4 L204.7 396.4 L205.1 396.4 L205.4 396.4 L205.8 396.4 L206.1 396.5 L206.5 396.5 L206.9 396.5 L207.2 396.5 L207.6 396.5 L207.9 396.5 L208.3 396.5 L208.6 396.6 L209.0 396.6 L209.4 396.6 L209.7 396.6 L210.1 396.6 L210.4 396.6 L210.8 396.6 L211.2 396.7 L211.5 396.7 L211.9 396.7 L212.2 396.7 L212.6 396.7 L212.9 396.7 L213.3 396.7 L213.7 396.7 L214.0 396.8 L214.4 396.8 L214.7 396.8 L215.1 396.8 L215.4 396.8 L215.8 396.8 L216.2 396.8 L216.5 396.8" fill="none" stroke="#EDB120" stroke-width="2.30" stroke-linejoin="round" stroke-linecap="butt"/>
<path d="M33.5 398.2 L33.9 398.2 L34.2 398.2 L34.6 398.2 L34.9 398.2 L35.3 398.2 L35.6 398.2 L36.0 398.2 L36.4 398.2 L36.7 398.2 L37.1 398.2 L37.4 398.2 L37.8 398.2 L38.2 398.2 L38.5 398.2 L38.9 398.2 L39.2 398.2 L39.6 398.2 L39.9 398.2 L40.3 398.2 L40.7 398.2 L41.0 398.2 L41.4 398.2 L41.7 398.2 L42.1 398.2 L42.5 398.2 L42.8 398.2 L43.2 398.2 L43.5 398.2 L43.9 398.2 L44.2 398.2 L44.6 398.2 L45.0 398.2 L45.3 398.2 L45.7 398.2 L46.0 398.2 L46.4 398.2 L46.8 398.2 L47.1 398.2 L47.5 398.2 L47.8 398.2 L48.2 398.2 L48.5 398.2 L48.9 398.2 L49.3 398.2 L49.6 398.2 L50.0 398.2 L50.3 398.2 L50.7 398.2 L51.1 398.2 L51.4 398.2 L51.8 398.2 L52.1 398.2 L52.5 398.2 L52.8 398.2 L53.2 398.2 L53.6 398.2 L53.9 398.2 L54.3 398.2 L54.6 398.2 L55.0 398.2 L55.3 398.2 L55.7 398.2 L56.1 398.2 L56.4 398.2 L56.8 398.2 L57.1 398.2 L57.5 398.2 L57.9 398.2 L58.2 398.2 L58.6 398.2 L58.9 398.2 L59.3 398.2 L59.6 398.2 L60.0 398.2 L60.4 398.2 L60.7 398.2 L61.1 398.2 L61.4 398.2 L61.8 398.2 L62.2 398.2 L62.5 398.2 L62.9 398.1 L63.2 398.1 L63.6 398.1 L63.9 398.1 L64.3 398.1 L64.7 398.1 L65.0 398.1 L65.4 397.9 L65.7 397.6 L66.1 397.2 L66.5 396.3 L66.8 395.0 L67.2 393.0 L67.5 390.0 L67.9 386.1 L68.2 380.4 L68.6 373.0 L69.0 365.7 L69.3 359.0 L69.7 352.5 L70.0 346.4 L70.4 340.6 L70.7 335.6 L71.1 331.6 L71.5 328.2 L71.8 325.1 L72.2 322.1 L72.5 320.1 L72.9 319.0 L73.3 318.5 L73.6 319.9 L74.0 321.6 L74.3 323.7 L74.7 326.3 L75.0 329.0 L75.4 331.5 L75.8 333.7 L76.1 335.7 L76.5 337.6 L76.8 339.4 L77.2 341.1 L77.6 342.8 L77.9 344.3 L78.3 345.9 L78.6 347.4 L79.0 348.8 L79.3 350.2 L79.7 351.6 L80.1 352.9 L80.4 354.1 L80.8 355.3 L81.1 356.5 L81.5 357.6 L81.9 358.7 L82.2 359.7 L82.6 360.6 L82.9 361.6 L83.3 362.4 L83.6 363.2 L84.0 364.0 L84.4 364.8 L84.7 365.4 L85.1 366.1 L85.4 366.7 L85.8 367.3 L86.2 367.8 L86.5 368.3 L86.9 368.9 L87.2 369.4 L87.6 369.8 L87.9 370.3 L88.3 370.8 L88.7 371.2 L89.0 371.6 L89.4 372.0 L89.7 372.5 L90.1 372.8 L90.4 373.2 L90.8 373.6 L91.2 373.9 L91.5 374.3 L91.9 374.6 L92.2 375.0 L92.6 375.3 L93.0 375.6 L93.3 375.9 L93.7 376.2 L94.0 376.5 L94.4 376.8 L94.7 377.0 L95.1 377.3 L95.5 377.6 L95.8 377.8 L96.2 378.1 L96.5 378.3 L96.9 378.6 L97.3 378.8 L97.6 379.0 L98.0 379.3 L98.3 379.5 L98.7 379.7 L99.0 379.9 L99.4 380.2 L99.8 380.4 L100.1 380.6 L100.5 380.8 L100.8 381.0 L101.2 381.2 L101.6 381.4 L101.9 381.6 L102.3 381.8 L102.6 382.0 L103.0 382.2 L103.3 382.4 L103.7 382.6 L104.1 382.8 L104.4 382.9 L104.8 383.1 L105.1 383.3 L105.5 383.5 L105.8 383.7 L106.2 383.9 L106.6 384.0 L106.9 384.2 L107.3 384.4 L107.6 384.5 L108.0 384.7 L108.4 384.9 L108.7 385.0 L109.1 385.2 L109.4 385.3 L109.8 385.5 L110.1 385.6 L110.5 385.8 L110.9 385.9 L111.2 386.1 L111.6 386.2 L111.9 386.3 L112.3 386.5 L112.7 386.6 L113.0 386.7 L113.4 386.9 L113.7 387.0 L114.1 387.1 L114.4 387.2 L114.8 387.4 L115.2 387.5 L115.5 387.6 L115.9 387.7 L116.2 387.8 L116.6 388.0 L117.0 388.1 L117.3 388.2 L117.7 388.3 L118.0 388.4 L118.4 388.5 L118.7 388.6 L119.1 388.7 L119.5 388.8 L119.8 388.9 L120.2 389.0 L120.5 389.1 L120.9 389.2 L121.3 389.3 L121.6 389.4 L122.0 389.5 L122.3 389.6 L122.7 389.7 L123.0 389.8 L123.4 389.9 L123.8 390.0 L124.1 390.1 L124.5 390.2 L124.8 390.3 L125.2 390.4 L125.5 390.5 L125.9 390.6 L126.3 390.7 L126.6 390.7 L127.0 390.8 L127.3 390.9 L127.7 391.0 L128.1 391.1 L128.4 391.2 L128.8 391.3 L129.1 391.3 L129.5 391.4 L129.8 391.5 L130.2 391.6 L130.6 391.7 L130.9 391.7 L131.3 391.8 L131.6 391.9 L132.0 391.9 L132.4 392.0 L132.7 392.1 L133.1 392.2 L133.4 392.2 L133.8 392.3 L134.1 392.4 L134.5 392.4 L134.9 392.5 L135.2 392.6 L135.6 392.6 L135.9 392.7 L136.3 392.7 L136.7 392.8 L137.0 392.9 L137.4 392.9 L137.7 393.0 L138.1 393.0 L138.4 393.1 L138.8 393.1 L139.2 393.2 L139.5 393.2 L139.9 393.3 L140.2 393.3 L140.6 393.4 L140.9 393.4 L141.3 393.5 L141.7 393.5 L142.0 393.5 L142.4 393.6 L142.7 393.6 L143.1 393.7 L143.5 393.7 L143.8 393.7 L144.2 393.8 L144.5 393.8 L144.9 393.9 L145.2 393.9 L145.6 393.9 L146.0 394.0 L146.3 394.0 L146.7 394.0 L147.0 394.1 L147.4 394.1 L147.8 394.1 L148.1 394.2 L148.5 394.2 L148.8 394.2 L149.2 394.3 L149.5 394.3 L149.9 394.3 L150.3 394.4 L150.6 394.4 L151.0 394.4 L151.3 394.5 L151.7 394.5 L152.1 394.5 L152.4 394.5 L152.8 394.6 L153.1 394.6 L153.5 394.6 L153.8 394.6 L154.2 394.7 L154.6 394.7 L154.9 394.7 L155.3 394.8 L155.6 394.8 L156.0 394.8 L156.4 394.8 L156.7 394.9 L157.1 394.9 L157.4 394.9 L157.8 394.9 L158.1 394.9 L158.5 395.0 L158.9 395.0 L159.2 395.0 L159.6 395.0 L159.9 395.1 L160.3 395.1 L160.6 395.1 L161.0 395.1 L161.4 395.2 L161.7 395.2 L162.1 395.2 L162.4 395.2 L162.8 395.2 L163.2 395.3 L163.5 395.3 L163.9 395.3 L164.2 395.3 L164.6 395.3 L164.9 395.4 L165.3 395.4 L165.7 395.4 L166.0 395.4 L166.4 395.5 L166.7 395.5 L167.1 395.5 L167.5 395.5 L167.8 395.5 L168.2 395.6 L168.5 395.6 L168.9 395.6 L169.2 395.6 L169.6 395.6 L170.0 395.7 L170.3 395.7 L170.7 395.7 L171.0 395.7 L171.4 395.7 L171.8 395.7 L172.1 395.8 L172.5 395.8 L172.8 395.8 L173.2 395.8 L173.5 395.8 L173.9 395.9 L174.3 395.9 L174.6 395.9 L175.0 395.9 L175.3 395.9 L175.7 396.0 L176.1 396.0 L176.4 396.0 L176.8 396.0 L177.1 396.0 L177.5 396.1 L177.8 396.1 L178.2 396.1 L178.6 396.1 L178.9 396.1 L179.3 396.2 L179.6 396.2 L180.0 396.2 L180.3 396.2 L180.7 396.2 L181.1 396.2 L181.4 396.3 L181.8 396.3 L182.1 396.3 L182.5 396.3 L182.9 396.3 L183.2 396.3 L183.6 396.4 L183.9 396.4 L184.3 396.4 L184.6 396.4 L185.0 396.4 L185.4 396.4 L185.7 396.5 L186.1 396.5 L186.4 396.5 L186.8 396.5 L187.2 396.5 L187.5 396.5 L187.9 396.6 L188.2 396.6 L188.6 396.6 L188.9 396.6 L189.3 396.6 L189.7 396.6 L190.0 396.6 L190.4 396.7 L190.7 396.7 L191.1 396.7 L191.5 396.7 L191.8 396.7 L192.2 396.7 L192.5 396.8 L192.9 396.8 L193.2 396.8 L193.6 396.8 L194.0 396.8 L194.3 396.8 L194.7 396.8 L195.0 396.8 L195.4 396.9 L195.7 396.9 L196.1 396.9 L196.5 396.9 L196.8 396.9 L197.2 396.9 L197.5 396.9 L197.9 397.0 L198.3 397.0 L198.6 397.0 L199.0 397.0 L199.3 397.0 L199.7 397.0 L200.0 397.0 L200.4 397.0 L200.8 397.1 L201.1 397.1 L201.5 397.1 L201.8 397.1 L202.2 397.1 L202.6 397.1 L202.9 397.1 L203.3 397.1 L203.6 397.1 L204.0 397.2 L204.3 397.2 L204.7 397.2 L205.1 397.2 L205.4 397.2 L205.8 397.2 L206.1 397.2 L206.5 397.2 L206.9 397.2 L207.2 397.3 L207.6 397.3 L207.9 397.3 L208.3 397.3 L208.6 397.3 L209.0 397.3 L209.4 397.3 L209.7 397.3 L210.1 397.3 L210.4 397.3 L210.8 397.4 L211.2 397.4 L211.5 397.4 L211.9 397.4 L212.2 397.4 L212.6 397.4 L212.9 397.4 L213.3 397.4 L213.7 397.4 L214.0 397.4 L214.4 397.4 L214.7 397.5 L215.1 397.5 L215.4 397.5 L215.8 397.5 L216.2 397.5 L216.5 397.5" fill="none" stroke="#7E2F8E" stroke-width="2.30" stroke-linejoin="round" stroke-linecap="butt"/>
<path d="M33.5 398.2 L33.9 398.2 L34.2 398.2 L34.6 398.2 L34.9 398.2 L35.3 398.2 L35.6 398.2 L36.0 398.2 L36.4 398.2 L36.7 398.2 L37.1 398.2 L37.4 398.2 L37.8 398.2 L38.2 398.2 L38.5 398.2 L38.9 398.2 L39.2 398.2 L39.6 398.2 L39.9 398.2 L40.3 398.2 L40.7 398.2 L41.0 398.2 L41.4 398.2 L41.7 398.2 L42.1 398.2 L42.5 398.2 L42.8 398.2 L43.2 398.2 L43.5 398.2 L43.9 398.2 L44.2 398.2 L44.6 398.2 L45.0 398.2 L45.3 398.2 L45.7 398.2 L46.0 398.2 L46.4 398.2 L46.8 398.2 L47.1 398.2 L47.5 398.2 L47.8 398.2 L48.2 398.2 L48.5 398.2 L48.9 398.2 L49.3 398.2 L49.6 398.2 L50.0 398.1 L50.3 398.1 L50.7 398.1 L51.1 398.1 L51.4 398.1 L51.8 398.1 L52.1 398.1 L52.5 398.1 L52.8 398.1 L53.2 398.1 L53.6 398.1 L53.9 398.1 L54.3 398.1 L54.6 398.1 L55.0 398.1 L55.3 398.1 L55.7 398.1 L56.1 398.0 L56.4 398.0 L56.8 398.0 L57.1 398.0 L57.5 398.0 L57.9 398.0 L58.2 398.0 L58.6 398.0 L58.9 398.0 L59.3 398.0 L59.6 398.0 L60.0 397.9 L60.4 397.9 L60.7 397.9 L61.1 397.9 L61.4 397.9 L61.8 397.9 L62.2 397.9 L62.5 397.9 L62.9 397.9 L63.2 397.8 L63.6 397.8 L63.9 397.8 L64.3 397.6 L64.7 397.0 L65.0 396.3 L65.4 395.3 L65.7 393.9 L66.1 392.1 L66.5 389.9 L66.8 387.0 L67.2 383.1 L67.5 376.6 L67.9 368.7 L68.2 361.5 L68.6 354.2 L69.0 346.1 L69.3 336.6 L69.7 326.3 L70.0 314.0 L70.4 294.4 L70.7 265.6 L71.1 252.2 L71.5 245.2 L71.8 242.5 L72.2 240.7 L72.5 240.0 L72.9 243.6 L73.3 248.5 L73.6 255.3 L74.0 262.7 L74.3 269.1 L74.7 275.2 L75.0 281.0 L75.4 286.9 L75.8 292.6 L76.1 297.7 L76.5 301.7 L76.8 304.8 L77.2 307.4 L77.6 309.6 L77.9 311.7 L78.3 313.6 L78.6 315.4 L79.0 316.9 L79.3 318.4 L79.7 320.0 L80.1 321.9 L80.4 324.2 L80.8 326.6 L81.1 329.1 L81.5 331.3 L81.9 333.2 L82.2 334.7 L82.6 336.2 L82.9 337.5 L83.3 338.8 L83.6 340.0 L84.0 341.1 L84.4 342.2 L84.7 343.2 L85.1 344.2 L85.4 345.1 L85.8 346.0 L86.2 346.9 L86.5 347.8 L86.9 348.7 L87.2 349.5 L87.6 350.4 L87.9 351.2 L88.3 352.0 L88.7 352.7 L89.0 353.5 L89.4 354.2 L89.7 354.9 L90.1 355.6 L90.4 356.3 L90.8 357.0 L91.2 357.6 L91.5 358.3 L91.9 358.9 L92.2 359.5 L92.6 360.1 L93.0 360.6 L93.3 361.2 L93.7 361.7 L94.0 362.3 L94.4 362.8 L94.7 363.3 L95.1 363.8 L95.5 364.3 L95.8 364.7 L96.2 365.2 L96.5 365.6 L96.9 366.0 L97.3 366.5 L97.6 366.9 L98.0 367.3 L98.3 367.6 L98.7 368.0 L99.0 368.4 L99.4 368.7 L99.8 369.1 L100.1 369.4 L100.5 369.7 L100.8 370.0 L101.2 370.3 L101.6 370.6 L101.9 370.9 L102.3 371.2 L102.6 371.5 L103.0 371.8 L103.3 372.1 L103.7 372.4 L104.1 372.7 L104.4 373.0 L104.8 373.3 L105.1 373.5 L105.5 373.8 L105.8 374.1 L106.2 374.4 L106.6 374.7 L106.9 374.9 L107.3 375.2 L107.6 375.5 L108.0 375.7 L108.4 376.0 L108.7 376.3 L109.1 376.5 L109.4 376.8 L109.8 377.0 L110.1 377.3 L110.5 377.5 L110.9 377.8 L111.2 378.0 L111.6 378.2 L111.9 378.5 L112.3 378.7 L112.7 378.9 L113.0 379.2 L113.4 379.4 L113.7 379.6 L114.1 379.8 L114.4 380.1 L114.8 380.3 L115.2 380.5 L115.5 380.7 L115.9 380.9 L116.2 381.1 L116.6 381.3 L117.0 381.5 L117.3 381.7 L117.7 381.9 L118.0 382.1 L118.4 382.3 L118.7 382.4 L119.1 382.6 L119.5 382.8 L119.8 383.0 L120.2 383.2 L120.5 383.3 L120.9 383.5 L121.3 383.7 L121.6 383.8 L122.0 384.0 L122.3 384.1 L122.7 384.3 L123.0 384.5 L123.4 384.6 L123.8 384.8 L124.1 384.9 L124.5 385.1 L124.8 385.2 L125.2 385.4 L125.5 385.5 L125.9 385.6 L126.3 385.8 L126.6 385.9 L127.0 386.1 L127.3 386.2 L127.7 386.3 L128.1 386.5 L128.4 386.6 L128.8 386.7 L129.1 386.8 L129.5 387.0 L129.8 387.1 L130.2 387.2 L130.6 387.3 L130.9 387.5 L131.3 387.6 L131.6 387.7 L132.0 387.8 L132.4 387.9 L132.7 388.0 L133.1 388.1 L133.4 388.2 L133.8 388.3 L134.1 388.5 L134.5 388.6 L134.9 388.7 L135.2 388.8 L135.6 388.9 L135.9 389.0 L136.3 389.0 L136.7 389.1 L137.0 389.2 L137.4 389.3 L137.7 389.4 L138.1 389.5 L138.4 389.6 L138.8 389.7 L139.2 389.8 L139.5 389.8 L139.9 389.9 L140.2 390.0 L140.6 390.1 L140.9 390.2 L141.3 390.2 L141.7 390.3 L142.0 390.4 L142.4 390.5 L142.7 390.5 L143.1 390.6 L143.5 390.7 L143.8 390.7 L144.2 390.8 L144.5 390.9 L144.9 390.9 L145.2 391.0 L145.6 391.1 L146.0 391.1 L146.3 391.2 L146.7 391.2 L147.0 391.3 L147.4 391.4 L147.8 391.4 L148.1 391.5 L148.5 391.5 L148.8 391.6 L149.2 391.6 L149.5 391.7 L149.9 391.8 L150.3 391.8 L150.6 391.9 L151.0 391.9 L151.3 392.0 L151.7 392.0 L152.1 392.1 L152.4 392.1 L152.8 392.2 L153.1 392.2 L153.5 392.3 L153.8 392.3 L154.2 392.4 L154.6 392.4 L154.9 392.4 L155.3 392.5 L155.6 392.5 L156.0 392.6 L156.4 392.6 L156.7 392.7 L157.1 392.7 L157.4 392.8 L157.8 392.8 L158.1 392.8 L158.5 392.9 L158.9 392.9 L159.2 393.0 L159.6 393.0 L159.9 393.0 L160.3 393.1 L160.6 393.1 L161.0 393.2 L161.4 393.2 L161.7 393.2 L162.1 393.3 L162.4 393.3 L162.8 393.3 L163.2 393.4 L163.5 393.4 L163.9 393.5 L164.2 393.5 L164.6 393.5 L164.9 393.6 L165.3 393.6 L165.7 393.6 L166.0 393.7 L166.4 393.7 L166.7 393.7 L167.1 393.7 L167.5 393.8 L167.8 393.8 L168.2 393.8 L168.5 393.9 L168.9 393.9 L169.2 393.9 L169.6 394.0 L170.0 394.0 L170.3 394.0 L170.7 394.1 L171.0 394.1 L171.4 394.1 L171.8 394.1 L172.1 394.2 L172.5 394.2 L172.8 394.2 L173.2 394.3 L173.5 394.3 L173.9 394.3 L174.3 394.3 L174.6 394.4 L175.0 394.4 L175.3 394.4 L175.7 394.5 L176.1 394.5 L176.4 394.5 L176.8 394.6 L177.1 394.6 L177.5 394.6 L177.8 394.6 L178.2 394.7 L178.6 394.7 L178.9 394.7 L179.3 394.8 L179.6 394.8 L180.0 394.8 L180.3 394.9 L180.7 394.9 L181.1 394.9 L181.4 394.9 L181.8 395.0 L182.1 395.0 L182.5 395.0 L182.9 395.1 L183.2 395.1 L183.6 395.1 L183.9 395.1 L184.3 395.2 L184.6 395.2 L185.0 395.2 L185.4 395.3 L185.7 395.3 L186.1 395.3 L186.4 395.3 L186.8 395.4 L187.2 395.4 L187.5 395.4 L187.9 395.4 L188.2 395.5 L188.6 395.5 L188.9 395.5 L189.3 395.5 L189.7 395.6 L190.0 395.6 L190.4 395.6 L190.7 395.6 L191.1 395.7 L191.5 395.7 L191.8 395.7 L192.2 395.7 L192.5 395.7 L192.9 395.8 L193.2 395.8 L193.6 395.8 L194.0 395.8 L194.3 395.8 L194.7 395.9 L195.0 395.9 L195.4 395.9 L195.7 395.9 L196.1 395.9 L196.5 395.9 L196.8 396.0 L197.2 396.0 L197.5 396.0 L197.9 396.0 L198.3 396.0 L198.6 396.0 L199.0 396.1 L199.3 396.1 L199.7 396.1 L200.0 396.1 L200.4 396.1 L200.8 396.1 L201.1 396.2 L201.5 396.2 L201.8 396.2 L202.2 396.2 L202.6 396.2 L202.9 396.2 L203.3 396.2 L203.6 396.3 L204.0 396.3 L204.3 396.3 L204.7 396.3 L205.1 396.3 L205.4 396.3 L205.8 396.3 L206.1 396.4 L206.5 396.4 L206.9 396.4 L207.2 396.4 L207.6 396.4 L207.9 396.4 L208.3 396.4 L208.6 396.4 L209.0 396.5 L209.4 396.5 L209.7 396.5 L210.1 396.5 L210.4 396.5 L210.8 396.5 L211.2 396.5 L211.5 396.5 L211.9 396.5 L212.2 396.6 L212.6 396.6 L212.9 396.6 L213.3 396.6 L213.7 396.6 L214.0 396.6 L214.4 396.6 L214.7 396.6 L215.1 396.6 L215.4 396.7 L215.8 396.7 L216.2 396.7 L216.5 396.7" fill="none" stroke="#77AC30" stroke-width="2.30" stroke-linejoin="round" stroke-linecap="butt"/>
<rect x="107.30" y="240.35" width="138.00" height="58.00" fill="#fff" stroke="#7c7c7c" stroke-width="0.8"/>
<line x1="109.50" y1="247.45" x2="129.10" y2="247.45" stroke="#0072BD" stroke-width="2"/>
<text x="130.70" y="250.65" class="lg" textLength="110.2" lengthAdjust="spacingAndGlyphs">Ka-band Airborne Waveform</text>
<line x1="109.50" y1="258.55" x2="129.10" y2="258.55" stroke="#D95319" stroke-width="2"/>
<text x="130.70" y="261.75" class="lg" textLength="101.8" lengthAdjust="spacingAndGlyphs">Original SAR Echo Model</text>
<line x1="109.50" y1="269.65" x2="129.10" y2="269.65" stroke="#EDB120" stroke-width="2"/>
<text x="130.70" y="272.85" class="lg" textLength="82.0" lengthAdjust="spacingAndGlyphs">Tracking Number = 1</text>
<line x1="109.50" y1="280.75" x2="129.10" y2="280.75" stroke="#7E2F8E" stroke-width="2"/>
<text x="130.70" y="283.95" class="lg" textLength="82.0" lengthAdjust="spacingAndGlyphs">Tracking Number = 3</text>
<line x1="109.50" y1="291.85" x2="129.10" y2="291.85" stroke="#77AC30" stroke-width="2"/>
<text x="130.70" y="295.05" class="lg" textLength="87.0" lengthAdjust="spacingAndGlyphs">Tracking Number = 14</text>
</g>
<g>
<line x1="357.32" y1="235.45" x2="357.32" y2="398.30" stroke="#e9e9e9" stroke-width="0.7"/>
<line x1="393.13" y1="235.45" x2="393.13" y2="398.30" stroke="#e9e9e9" stroke-width="0.7"/>
<line x1="428.95" y1="235.45" x2="428.95" y2="398.30" stroke="#e9e9e9" stroke-width="0.7"/>
<line x1="464.77" y1="235.45" x2="464.77" y2="398.30" stroke="#e9e9e9" stroke-width="0.7"/>
<line x1="500.58" y1="235.45" x2="500.58" y2="398.30" stroke="#e9e9e9" stroke-width="0.7"/>
<line x1="321.50" y1="365.73" x2="536.40" y2="365.73" stroke="#e9e9e9" stroke-width="0.7"/>
<line x1="321.50" y1="333.16" x2="536.40" y2="333.16" stroke="#e9e9e9" stroke-width="0.7"/>
<line x1="321.50" y1="300.59" x2="536.40" y2="300.59" stroke="#e9e9e9" stroke-width="0.7"/>
<line x1="321.50" y1="268.02" x2="536.40" y2="268.02" stroke="#e9e9e9" stroke-width="0.7"/>
<rect x="321.50" y="235.45" width="214.90" height="162.85" fill="none" stroke="#8a8a8a" stroke-width="1"/>
<line x1="321.50" y1="398.30" x2="321.50" y2="395.70" stroke="#5a5a5a" stroke-width="0.9"/>
<line x1="321.50" y1="235.45" x2="321.50" y2="238.05" stroke="#5a5a5a" stroke-width="0.9"/>
<text x="321.50" y="411.60" text-anchor="middle" class="tk" textLength="5.0" lengthAdjust="spacingAndGlyphs">0</text>
<line x1="357.32" y1="398.30" x2="357.32" y2="395.70" stroke="#5a5a5a" stroke-width="0.9"/>
<line x1="357.32" y1="235.45" x2="357.32" y2="238.05" stroke="#5a5a5a" stroke-width="0.9"/>
<text x="357.32" y="411.60" text-anchor="middle" class="tk" textLength="15.0" lengthAdjust="spacingAndGlyphs">100</text>
<line x1="393.13" y1="398.30" x2="393.13" y2="395.70" stroke="#5a5a5a" stroke-width="0.9"/>
<line x1="393.13" y1="235.45" x2="393.13" y2="238.05" stroke="#5a5a5a" stroke-width="0.9"/>
<text x="393.13" y="411.60" text-anchor="middle" class="tk" textLength="15.0" lengthAdjust="spacingAndGlyphs">200</text>
<line x1="428.95" y1="398.30" x2="428.95" y2="395.70" stroke="#5a5a5a" stroke-width="0.9"/>
<line x1="428.95" y1="235.45" x2="428.95" y2="238.05" stroke="#5a5a5a" stroke-width="0.9"/>
<text x="428.95" y="411.60" text-anchor="middle" class="tk" textLength="15.0" lengthAdjust="spacingAndGlyphs">300</text>
<line x1="464.77" y1="398.30" x2="464.77" y2="395.70" stroke="#5a5a5a" stroke-width="0.9"/>
<line x1="464.77" y1="235.45" x2="464.77" y2="238.05" stroke="#5a5a5a" stroke-width="0.9"/>
<text x="464.77" y="411.60" text-anchor="middle" class="tk" textLength="15.0" lengthAdjust="spacingAndGlyphs">400</text>
<line x1="500.58" y1="398.30" x2="500.58" y2="395.70" stroke="#5a5a5a" stroke-width="0.9"/>
<line x1="500.58" y1="235.45" x2="500.58" y2="238.05" stroke="#5a5a5a" stroke-width="0.9"/>
<text x="500.58" y="411.60" text-anchor="middle" class="tk" textLength="15.0" lengthAdjust="spacingAndGlyphs">500</text>
<line x1="536.40" y1="398.30" x2="536.40" y2="395.70" stroke="#5a5a5a" stroke-width="0.9"/>
<line x1="536.40" y1="235.45" x2="536.40" y2="238.05" stroke="#5a5a5a" stroke-width="0.9"/>
<text x="536.40" y="411.60" text-anchor="middle" class="tk" textLength="15.0" lengthAdjust="spacingAndGlyphs">600</text>
<line x1="321.50" y1="398.30" x2="324.10" y2="398.30" stroke="#5a5a5a" stroke-width="0.9"/>
<line x1="536.40" y1="398.30" x2="533.80" y2="398.30" stroke="#5a5a5a" stroke-width="0.9"/>
<text x="317.90" y="402.30" text-anchor="end" class="tk" textLength="5.0" lengthAdjust="spacingAndGlyphs">0</text>
<line x1="321.50" y1="365.73" x2="324.10" y2="365.73" stroke="#5a5a5a" stroke-width="0.9"/>
<line x1="536.40" y1="365.73" x2="533.80" y2="365.73" stroke="#5a5a5a" stroke-width="0.9"/>
<text x="317.90" y="369.73" text-anchor="end" class="tk" textLength="12.5" lengthAdjust="spacingAndGlyphs">0.2</text>
<line x1="321.50" y1="333.16" x2="324.10" y2="333.16" stroke="#5a5a5a" stroke-width="0.9"/>
<line x1="536.40" y1="333.16" x2="533.80" y2="333.16" stroke="#5a5a5a" stroke-width="0.9"/>
<text x="317.90" y="337.16" text-anchor="end" class="tk" textLength="12.5" lengthAdjust="spacingAndGlyphs">0.4</text>
<line x1="321.50" y1="300.59" x2="324.10" y2="300.59" stroke="#5a5a5a" stroke-width="0.9"/>
<line x1="536.40" y1="300.59" x2="533.80" y2="300.59" stroke="#5a5a5a" stroke-width="0.9"/>
<text x="317.90" y="304.59" text-anchor="end" class="tk" textLength="12.5" lengthAdjust="spacingAndGlyphs">0.6</text>
<line x1="321.50" y1="268.02" x2="324.10" y2="268.02" stroke="#5a5a5a" stroke-width="0.9"/>
<line x1="536.40" y1="268.02" x2="533.80" y2="268.02" stroke="#5a5a5a" stroke-width="0.9"/>
<text x="317.90" y="272.02" text-anchor="end" class="tk" textLength="12.5" lengthAdjust="spacingAndGlyphs">0.8</text>
<line x1="321.50" y1="235.45" x2="324.10" y2="235.45" stroke="#5a5a5a" stroke-width="0.9"/>
<line x1="536.40" y1="235.45" x2="533.80" y2="235.45" stroke="#5a5a5a" stroke-width="0.9"/>
<text x="317.90" y="239.45" text-anchor="end" class="tk" textLength="5.0" lengthAdjust="spacingAndGlyphs">1</text>
<text x="428.95" y="425.30" text-anchor="middle" class="al" textLength="62.6" lengthAdjust="spacingAndGlyphs">Gate Number</text>
<text transform="translate(300.10 317.77) rotate(-90)" text-anchor="middle" class="al" style="font-size:11.5px" textLength="28.9" lengthAdjust="spacingAndGlyphs">Power</text>
<text x="424.25" y="443.50" text-anchor="middle" class="cap">(<tspan font-weight="bold">d</tspan>)</text>
<path d="M321.5 398.2 L321.9 398.2 L322.2 398.2 L322.6 398.2 L322.9 398.2 L323.3 398.2 L323.6 398.2 L324.0 398.2 L324.4 398.2 L324.7 398.2 L325.1 398.2 L325.4 398.2 L325.8 398.2 L326.2 398.1 L326.5 398.1 L326.9 398.1 L327.2 398.1 L327.6 398.1 L327.9 398.1 L328.3 398.1 L328.7 398.1 L329.0 398.1 L329.4 398.1 L329.7 398.0 L330.1 398.0 L330.5 398.0 L330.8 398.0 L331.2 398.0 L331.5 398.0 L331.9 398.0 L332.2 398.0 L332.6 398.0 L333.0 398.0 L333.3 397.9 L333.7 397.9 L334.0 397.9 L334.4 397.9 L334.8 397.9 L335.1 397.9 L335.5 397.9 L335.8 397.8 L336.2 397.8 L336.5 397.8 L336.9 397.8 L337.3 397.8 L337.6 397.8 L338.0 397.7 L338.3 397.7 L338.7 397.7 L339.1 397.7 L339.4 397.6 L339.8 397.6 L340.1 397.6 L340.5 397.6 L340.8 397.5 L341.2 397.5 L341.6 397.5 L341.9 397.4 L342.3 397.4 L342.6 397.3 L343.0 397.3 L343.3 397.2 L343.7 397.2 L344.1 397.1 L344.4 397.1 L344.8 397.0 L345.1 396.9 L345.5 396.9 L345.9 396.8 L346.2 396.7 L346.6 396.7 L346.9 396.6 L347.3 396.5 L347.6 396.4 L348.0 396.3 L348.4 396.2 L348.7 396.0 L349.1 395.9 L349.4 395.8 L349.8 395.6 L350.2 395.4 L350.5 395.2 L350.9 395.0 L351.2 394.8 L351.6 394.6 L351.9 394.3 L352.3 394.0 L352.7 393.6 L353.0 393.1 L353.4 392.2 L353.7 390.9 L354.1 389.4 L354.5 387.5 L354.8 385.1 L355.2 381.7 L355.5 376.4 L355.9 369.8 L356.2 363.0 L356.6 355.6 L357.0 347.2 L357.3 337.6 L357.7 325.7 L358.0 310.8 L358.4 292.4 L358.7 267.5 L359.1 252.2 L359.5 241.6 L359.8 236.0 L360.2 238.4 L360.5 242.8 L360.9 247.0 L361.3 251.7 L361.6 257.9 L362.0 264.8 L362.3 271.5 L362.7 278.1 L363.0 284.3 L363.4 290.4 L363.8 296.2 L364.1 300.7 L364.5 303.4 L364.8 305.4 L365.2 306.3 L365.6 306.2 L365.9 306.0 L366.3 305.7 L366.6 305.5 L367.0 306.9 L367.3 314.1 L367.7 318.7 L368.1 321.7 L368.4 327.5 L368.8 328.1 L369.1 332.4 L369.5 337.9 L369.9 340.7 L370.2 342.9 L370.6 343.8 L370.9 343.1 L371.3 341.4 L371.6 336.1 L372.0 337.1 L372.4 337.2 L372.7 340.3 L373.1 341.3 L373.4 342.2 L373.8 344.1 L374.2 346.3 L374.5 351.2 L374.9 352.8 L375.2 357.2 L375.6 357.5 L375.9 358.8 L376.3 357.4 L376.7 357.1 L377.0 361.2 L377.4 362.6 L377.7 363.7 L378.1 361.3 L378.4 363.3 L378.8 364.3 L379.2 363.6 L379.5 364.3 L379.9 364.3 L380.2 365.2 L380.6 364.5 L381.0 364.5 L381.3 366.7 L381.7 366.9 L382.0 368.3 L382.4 367.1 L382.7 366.5 L383.1 364.8 L383.5 365.9 L383.8 366.0 L384.2 366.0 L384.5 364.6 L384.9 365.8 L385.3 366.1 L385.6 367.1 L386.0 365.5 L386.3 365.9 L386.7 364.3 L387.0 364.6 L387.4 367.2 L387.8 370.5 L388.1 371.2 L388.5 371.2 L388.8 370.6 L389.2 372.2 L389.6 373.4 L389.9 374.1 L390.3 375.4 L390.6 376.9 L391.0 376.7 L391.3 377.9 L391.7 376.6 L392.1 377.7 L392.4 376.7 L392.8 378.3 L393.1 378.3 L393.5 379.2 L393.8 379.0 L394.2 379.7 L394.6 378.2 L394.9 377.1 L395.3 376.1 L395.6 376.7 L396.0 376.3 L396.4 376.2 L396.7 374.4 L397.1 372.3 L397.4 371.0 L397.8 370.8 L398.1 373.0 L398.5 374.8 L398.9 376.7 L399.2 378.0 L399.6 378.5 L399.9 379.5 L400.3 379.6 L400.7 381.1 L401.0 382.3 L401.4 384.3 L401.7 384.8 L402.1 384.8 L402.4 384.8 L402.8 384.8 L403.2 384.8 L403.5 384.4 L403.9 384.5 L404.2 384.3 L404.6 384.1 L405.0 383.6 L405.3 383.4 L405.7 382.8 L406.0 383.0 L406.4 383.7 L406.7 384.0 L407.1 383.8 L407.5 384.4 L407.8 384.0 L408.2 384.0 L408.5 383.0 L408.9 384.3 L409.3 384.0 L409.6 384.7 L410.0 384.6 L410.3 385.9 L410.7 385.9 L411.0 386.2 L411.4 385.9 L411.8 385.8 L412.1 385.9 L412.5 385.5 L412.8 385.9 L413.2 386.2 L413.5 386.4 L413.9 385.7 L414.3 384.4 L414.6 383.7 L415.0 384.2 L415.3 384.2 L415.7 383.6 L416.1 382.6 L416.4 382.9 L416.8 383.5 L417.1 384.1 L417.5 384.1 L417.8 384.8 L418.2 384.7 L418.6 385.4 L418.9 386.2 L419.3 387.0 L419.6 387.2 L420.0 387.4 L420.4 387.9 L420.7 389.0 L421.1 388.7 L421.4 388.9 L421.8 388.9 L422.1 389.8 L422.5 389.8 L422.9 389.0 L423.2 388.6 L423.6 388.5 L423.9 389.1 L424.3 389.5 L424.7 389.5 L425.0 389.1 L425.4 388.8 L425.7 388.8 L426.1 389.2 L426.4 389.4 L426.8 389.5 L427.2 388.8 L427.5 388.8 L427.9 388.7 L428.2 389.4 L428.6 389.4 L428.9 389.9 L429.3 390.3 L429.7 390.4 L430.0 390.1 L430.4 389.9 L430.7 390.0 L431.1 390.0 L431.5 390.3 L431.8 390.7 L432.2 391.3 L432.5 391.3 L432.9 390.7 L433.2 390.5 L433.6 390.5 L434.0 391.0 L434.3 390.5 L434.7 390.5 L435.0 390.6 L435.4 391.3 L435.8 391.0 L436.1 390.9 L436.5 391.2 L436.8 391.7 L437.2 391.6 L437.5 391.5 L437.9 391.7 L438.3 391.6 L438.6 391.5 L439.0 391.3 L439.3 391.7 L439.7 391.8 L440.1 392.0 L440.4 392.3 L440.8 392.3 L441.1 392.5 L441.5 392.3 L441.8 392.7 L442.2 392.5 L442.6 392.6 L442.9 392.1 L443.3 392.4 L443.6 392.7 L444.0 393.1 L444.4 393.2 L444.7 393.1 L445.1 393.0 L445.4 392.8 L445.8 392.5 L446.1 392.8 L446.5 392.5 L446.9 392.6 L447.2 392.5 L447.6 393.4 L447.9 393.7 L448.3 393.7 L448.6 393.8 L449.0 393.8 L449.4 393.9 L449.7 393.8 L450.1 393.7 L450.4 393.6 L450.8 393.6 L451.2 393.7 L451.5 394.0 L451.9 394.1 L452.2 394.2 L452.6 394.1 L452.9 394.1 L453.3 394.4 L453.7 394.4 L454.0 394.6 L454.4 394.4 L454.7 394.3 L455.1 394.1 L455.5 394.3 L455.8 394.7 L456.2 394.6 L456.5 394.5 L456.9 394.4 L457.2 394.4 L457.6 394.5 L458.0 394.6 L458.3 394.8 L458.7 395.2 L459.0 395.4 L459.4 395.3 L459.8 395.0 L460.1 394.9 L460.5 394.9 L460.8 394.9 L461.2 394.9 L461.5 395.0 L461.9 395.1 L462.3 395.4 L462.6 395.2 L463.0 395.2 L463.3 395.1 L463.7 395.1 L464.1 395.0 L464.4 395.1 L464.8 395.2 L465.1 395.5 L465.5 395.5 L465.8 395.5 L466.2 395.6 L466.6 395.6 L466.9 395.7 L467.3 395.5 L467.6 395.7 L468.0 395.6 L468.3 395.6 L468.7 395.6 L469.1 395.9 L469.4 396.0 L469.8 395.9 L470.1 395.9 L470.5 395.9 L470.9 396.0 L471.2 396.2 L471.6 396.2 L471.9 396.4 L472.3 396.2 L472.6 396.2 L473.0 396.2 L473.4 396.3 L473.7 396.4 L474.1 396.3 L474.4 396.4 L474.8 396.3 L475.2 396.4 L475.5 396.3 L475.9 396.3 L476.2 396.3 L476.6 396.4 L476.9 396.4 L477.3 396.4 L477.7 396.5 L478.0 396.4 L478.4 396.5 L478.7 396.6 L479.1 396.6 L479.5 396.5 L479.8 396.5 L480.2 396.6 L480.5 396.7 L480.9 396.7 L481.2 396.7 L481.6 396.7 L482.0 396.8 L482.3 396.9 L482.7 397.0 L483.0 396.9 L483.4 397.0 L483.7 397.0 L484.1 397.0 L484.5 396.9 L484.8 397.0 L485.2 397.0 L485.5 397.1 L485.9 397.0 L486.3 397.1 L486.6 397.1 L487.0 397.2 L487.3 397.2 L487.7 397.1 L488.0 397.1 L488.4 397.2 L488.8 397.2 L489.1 397.2 L489.5 397.2 L489.8 397.2 L490.2 397.3 L490.6 397.3 L490.9 397.4 L491.3 397.3 L491.6 397.3 L492.0 397.3 L492.3 397.4 L492.7 397.4 L493.1 397.4 L493.4 397.4 L493.8 397.4 L494.1 397.4 L494.5 397.5 L494.9 397.5 L495.2 397.5 L495.6 397.5 L495.9 397.6 L496.3 397.6 L496.6 397.6 L497.0 397.6 L497.4 397.6 L497.7 397.6 L498.1 397.6 L498.4 397.7 L498.8 397.6 L499.2 397.6 L499.5 397.7 L499.9 397.7 L500.2 397.7 L500.6 397.7 L500.9 397.7 L501.3 397.8 L501.7 397.7 L502.0 397.8 L502.4 397.8 L502.7 397.8 L503.1 397.8 L503.4 397.8 L503.8 397.8 L504.2 397.8 L504.5 397.9" fill="none" stroke="#0072BD" stroke-width="2.30" stroke-linejoin="round" stroke-linecap="butt"/>
<path d="M321.5 398.2 L321.9 398.2 L322.2 398.2 L322.6 398.2 L322.9 398.2 L323.3 398.2 L323.6 398.2 L324.0 398.2 L324.4 398.2 L324.7 398.2 L325.1 398.2 L325.4 398.2 L325.8 398.2 L326.2 398.2 L326.5 398.2 L326.9 398.2 L327.2 398.2 L327.6 398.2 L327.9 398.2 L328.3 398.2 L328.7 398.2 L329.0 398.2 L329.4 398.2 L329.7 398.2 L330.1 398.2 L330.5 398.2 L330.8 398.2 L331.2 398.2 L331.5 398.2 L331.9 398.2 L332.2 398.2 L332.6 398.2 L333.0 398.2 L333.3 398.2 L333.7 398.2 L334.0 398.2 L334.4 398.2 L334.8 398.2 L335.1 398.2 L335.5 398.2 L335.8 398.2 L336.2 398.2 L336.5 398.2 L336.9 398.2 L337.3 398.2 L337.6 398.2 L338.0 398.2 L338.3 398.2 L338.7 398.2 L339.1 398.2 L339.4 398.2 L339.8 398.2 L340.1 398.2 L340.5 398.2 L340.8 398.1 L341.2 398.1 L341.6 398.1 L341.9 398.1 L342.3 398.1 L342.6 398.1 L343.0 398.1 L343.3 398.1 L343.7 398.1 L344.1 398.1 L344.4 398.1 L344.8 398.1 L345.1 398.1 L345.5 398.1 L345.9 398.1 L346.2 398.1 L346.6 398.1 L346.9 398.1 L347.3 398.1 L347.6 398.1 L348.0 398.1 L348.4 398.0 L348.7 398.0 L349.1 398.0 L349.4 398.0 L349.8 398.0 L350.2 398.0 L350.5 398.0 L350.9 398.0 L351.2 398.0 L351.6 398.0 L351.9 398.0 L352.3 397.9 L352.7 397.7 L353.0 397.4 L353.4 397.0 L353.7 396.2 L354.1 395.0 L354.5 392.8 L354.8 389.1 L355.2 384.1 L355.5 376.2 L355.9 366.7 L356.2 355.8 L356.6 343.2 L357.0 330.8 L357.3 318.8 L357.7 304.8 L358.0 288.7 L358.4 273.2 L358.7 261.0 L359.1 251.4 L359.5 245.2 L359.8 242.3 L360.2 241.0 L360.5 243.6 L360.9 246.8 L361.3 250.3 L361.6 254.4 L362.0 259.0 L362.3 264.2 L362.7 270.8 L363.0 277.8 L363.4 284.3 L363.8 290.3 L364.1 295.9 L364.5 300.6 L364.8 304.3 L365.2 307.5 L365.6 310.4 L365.9 312.9 L366.3 315.2 L366.6 317.2 L367.0 319.0 L367.3 320.6 L367.7 322.3 L368.1 324.2 L368.4 326.4 L368.8 328.6 L369.1 330.9 L369.5 333.0 L369.9 334.8 L370.2 336.4 L370.6 337.9 L370.9 339.3 L371.3 340.6 L371.6 341.9 L372.0 343.2 L372.4 344.3 L372.7 345.4 L373.1 346.5 L373.4 347.5 L373.8 348.4 L374.2 349.4 L374.5 350.2 L374.9 351.1 L375.2 351.9 L375.6 352.7 L375.9 353.4 L376.3 354.1 L376.7 354.8 L377.0 355.5 L377.4 356.2 L377.7 356.8 L378.1 357.4 L378.4 358.0 L378.8 358.6 L379.2 359.1 L379.5 359.7 L379.9 360.2 L380.2 360.7 L380.6 361.2 L381.0 361.7 L381.3 362.2 L381.7 362.6 L382.0 363.1 L382.4 363.5 L382.7 363.9 L383.1 364.4 L383.5 364.8 L383.8 365.2 L384.2 365.6 L384.5 366.0 L384.9 366.4 L385.3 366.8 L385.6 367.2 L386.0 367.5 L386.3 367.9 L386.7 368.2 L387.0 368.6 L387.4 368.9 L387.8 369.2 L388.1 369.5 L388.5 369.8 L388.8 370.1 L389.2 370.4 L389.6 370.7 L389.9 371.0 L390.3 371.3 L390.6 371.6 L391.0 371.9 L391.3 372.2 L391.7 372.4 L392.1 372.7 L392.4 373.0 L392.8 373.3 L393.1 373.5 L393.5 373.8 L393.8 374.1 L394.2 374.4 L394.6 374.6 L394.9 374.9 L395.3 375.2 L395.6 375.4 L396.0 375.7 L396.4 376.0 L396.7 376.2 L397.1 376.5 L397.4 376.7 L397.8 377.0 L398.1 377.2 L398.5 377.5 L398.9 377.7 L399.2 378.0 L399.6 378.2 L399.9 378.4 L400.3 378.7 L400.7 378.9 L401.0 379.1 L401.4 379.4 L401.7 379.6 L402.1 379.8 L402.4 380.0 L402.8 380.2 L403.2 380.5 L403.5 380.7 L403.9 380.9 L404.2 381.1 L404.6 381.3 L405.0 381.5 L405.3 381.7 L405.7 381.9 L406.0 382.1 L406.4 382.2 L406.7 382.4 L407.1 382.6 L407.5 382.8 L407.8 383.0 L408.2 383.1 L408.5 383.3 L408.9 383.5 L409.3 383.7 L409.6 383.8 L410.0 384.0 L410.3 384.1 L410.7 384.3 L411.0 384.5 L411.4 384.6 L411.8 384.8 L412.1 384.9 L412.5 385.1 L412.8 385.2 L413.2 385.4 L413.5 385.5 L413.9 385.6 L414.3 385.8 L414.6 385.9 L415.0 386.1 L415.3 386.2 L415.7 386.3 L416.1 386.5 L416.4 386.6 L416.8 386.7 L417.1 386.8 L417.5 387.0 L417.8 387.1 L418.2 387.2 L418.6 387.3 L418.9 387.5 L419.3 387.6 L419.6 387.7 L420.0 387.8 L420.4 387.9 L420.7 388.0 L421.1 388.1 L421.4 388.2 L421.8 388.3 L422.1 388.5 L422.5 388.6 L422.9 388.7 L423.2 388.8 L423.6 388.9 L423.9 389.0 L424.3 389.0 L424.7 389.1 L425.0 389.2 L425.4 389.3 L425.7 389.4 L426.1 389.5 L426.4 389.6 L426.8 389.7 L427.2 389.8 L427.5 389.8 L427.9 389.9 L428.2 390.0 L428.6 390.1 L428.9 390.2 L429.3 390.2 L429.7 390.3 L430.0 390.4 L430.4 390.5 L430.7 390.5 L431.1 390.6 L431.5 390.7 L431.8 390.7 L432.2 390.8 L432.5 390.9 L432.9 390.9 L433.2 391.0 L433.6 391.1 L434.0 391.1 L434.3 391.2 L434.7 391.2 L435.0 391.3 L435.4 391.4 L435.8 391.4 L436.1 391.5 L436.5 391.5 L436.8 391.6 L437.2 391.6 L437.5 391.7 L437.9 391.8 L438.3 391.8 L438.6 391.9 L439.0 391.9 L439.3 392.0 L439.7 392.0 L440.1 392.1 L440.4 392.1 L440.8 392.2 L441.1 392.2 L441.5 392.3 L441.8 392.3 L442.2 392.4 L442.6 392.4 L442.9 392.4 L443.3 392.5 L443.6 392.5 L444.0 392.6 L444.4 392.6 L444.7 392.7 L445.1 392.7 L445.4 392.8 L445.8 392.8 L446.1 392.8 L446.5 392.9 L446.9 392.9 L447.2 393.0 L447.6 393.0 L447.9 393.0 L448.3 393.1 L448.6 393.1 L449.0 393.2 L449.4 393.2 L449.7 393.2 L450.1 393.3 L450.4 393.3 L450.8 393.3 L451.2 393.4 L451.5 393.4 L451.9 393.5 L452.2 393.5 L452.6 393.5 L452.9 393.6 L453.3 393.6 L453.7 393.6 L454.0 393.7 L454.4 393.7 L454.7 393.7 L455.1 393.7 L455.5 393.8 L455.8 393.8 L456.2 393.8 L456.5 393.9 L456.9 393.9 L457.2 393.9 L457.6 394.0 L458.0 394.0 L458.3 394.0 L458.7 394.1 L459.0 394.1 L459.4 394.1 L459.8 394.1 L460.1 394.2 L460.5 394.2 L460.8 394.2 L461.2 394.3 L461.5 394.3 L461.9 394.3 L462.3 394.3 L462.6 394.4 L463.0 394.4 L463.3 394.4 L463.7 394.5 L464.1 394.5 L464.4 394.5 L464.8 394.6 L465.1 394.6 L465.5 394.6 L465.8 394.6 L466.2 394.7 L466.6 394.7 L466.9 394.7 L467.3 394.8 L467.6 394.8 L468.0 394.8 L468.3 394.9 L468.7 394.9 L469.1 394.9 L469.4 394.9 L469.8 395.0 L470.1 395.0 L470.5 395.0 L470.9 395.1 L471.2 395.1 L471.6 395.1 L471.9 395.1 L472.3 395.2 L472.6 395.2 L473.0 395.2 L473.4 395.3 L473.7 395.3 L474.1 395.3 L474.4 395.3 L474.8 395.4 L475.2 395.4 L475.5 395.4 L475.9 395.4 L476.2 395.5 L476.6 395.5 L476.9 395.5 L477.3 395.5 L477.7 395.6 L478.0 395.6 L478.4 395.6 L478.7 395.6 L479.1 395.7 L479.5 395.7 L479.8 395.7 L480.2 395.7 L480.5 395.7 L480.9 395.8 L481.2 395.8 L481.6 395.8 L482.0 395.8 L482.3 395.8 L482.7 395.9 L483.0 395.9 L483.4 395.9 L483.7 395.9 L484.1 395.9 L484.5 395.9 L484.8 396.0 L485.2 396.0 L485.5 396.0 L485.9 396.0 L486.3 396.0 L486.6 396.0 L487.0 396.1 L487.3 396.1 L487.7 396.1 L488.0 396.1 L488.4 396.1 L488.8 396.1 L489.1 396.2 L489.5 396.2 L489.8 396.2 L490.2 396.2 L490.6 396.2 L490.9 396.2 L491.3 396.2 L491.6 396.3 L492.0 396.3 L492.3 396.3 L492.7 396.3 L493.1 396.3 L493.4 396.3 L493.8 396.3 L494.1 396.4 L494.5 396.4 L494.9 396.4 L495.2 396.4 L495.6 396.4 L495.9 396.4 L496.3 396.4 L496.6 396.4 L497.0 396.5 L497.4 396.5 L497.7 396.5 L498.1 396.5 L498.4 396.5 L498.8 396.5 L499.2 396.5 L499.5 396.5 L499.9 396.5 L500.2 396.6 L500.6 396.6 L500.9 396.6 L501.3 396.6 L501.7 396.6 L502.0 396.6 L502.4 396.6 L502.7 396.6 L503.1 396.6 L503.4 396.7 L503.8 396.7 L504.2 396.7 L504.5 396.7" fill="none" stroke="#D95319" stroke-width="2.30" stroke-linejoin="round" stroke-linecap="butt"/>
<rect x="395.70" y="241.65" width="137.50" height="23.90" fill="#fff" stroke="#7c7c7c" stroke-width="0.8"/>
<line x1="397.50" y1="247.45" x2="417.10" y2="247.45" stroke="#0072BD" stroke-width="2"/>
<text x="418.50" y="250.65" class="lg" textLength="110.2" lengthAdjust="spacingAndGlyphs">Ka-band Airborne Waveform</text>
<line x1="397.50" y1="258.55" x2="417.10" y2="258.55" stroke="#D95319" stroke-width="2"/>
<text x="418.50" y="261.75" class="lg" textLength="89.2" lengthAdjust="spacingAndGlyphs">Final SAR Echo Model</text>
</g>
</svg>
</body></html>
